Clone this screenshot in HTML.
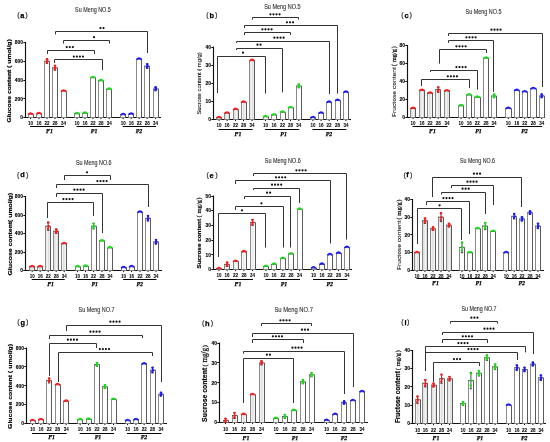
<!DOCTYPE html>
<html><head><meta charset="utf-8"><title>Su Meng sugar content</title>
<style>
html,body{margin:0;padding:0;background:#fff;}
body{width:550px;height:442px;overflow:hidden;}
svg{display:block;will-change:transform;}
text{font-family:"Liberation Sans",sans-serif;fill:#000;}
.pp{font-size:7.3px;fill:#333;stroke:#333;stroke-width:0.2px;}
.pl{font-size:7.4px;font-weight:bold;fill:#000;stroke:#000;stroke-width:0.25px;}
.tt{font-size:6.6px;fill:#2a2a2a;stroke:#2a2a2a;stroke-width:0.1px;}
.yb{font-weight:bold;fill:#000;stroke:#000;stroke-width:0.18px;}
.yr{fill:#111;stroke:#111;stroke-width:0.08px;}
.yu{font-family:"Liberation Serif",serif;fill:#111;stroke:#111;stroke-width:0.25px;}
.tl{font-size:4.9px;font-weight:bold;text-anchor:end;fill:#000;stroke:#000;stroke-width:0.12px;}
.xl{font-size:4.5px;font-weight:bold;text-anchor:middle;fill:#000;stroke:#000;stroke-width:0.05px;}
.gl{font-family:"Liberation Serif",serif;font-size:5.8px;font-weight:bold;font-style:italic;text-anchor:middle;fill:#000;stroke:#000;stroke-width:0.25px;}
.sd{fill:#111;}
.ax{stroke:#111;stroke-width:1.15;fill:none;}
.tk{stroke:#111;stroke-width:1;fill:none;}
.br{stroke:#5a5a5a;stroke-width:1;fill:none;}
.brl{stroke:#8a8a8a;stroke-width:1;fill:none;}
.eb{stroke:#1a1a1a;stroke-width:0.8;fill:none;}
.ul{stroke:#000;stroke-width:1.1;fill:none;}
.bk{stroke:#333;stroke-width:1;fill:none;}
</style></head>
<body>
<svg width="550" height="442" viewBox="0 0 550 442">
<defs>
<pattern id="hatch" patternUnits="userSpaceOnUse" width="1.5" height="4">
<rect width="1.5" height="4" fill="#f6f6f6"/>
<rect width="0.5" height="4" fill="#cfcfcf"/>
</pattern>
<pattern id="hatchl" patternUnits="userSpaceOnUse" width="1.5" height="4">
<rect width="1.5" height="4" fill="#fbfbfb"/>
<rect width="0.5" height="4" fill="#dedede"/>
</pattern>
</defs>
<rect width="550" height="442" fill="#fff"/>
<g>
<text x="17.3" y="17.3" class="pp">(</text>
<text x="20.3" y="17.8" class="pl">a</text>
<text x="25.2" y="17.3" class="pp">)</text>
<text x="75.1" y="11.7" class="tt" textLength="35.6" lengthAdjust="spacingAndGlyphs">Su Meng NO.5</text>
<text transform="translate(10.9,122.6) rotate(-90)" class="yb" style="font-size:6.1px" textLength="83.3" lengthAdjust="spacingAndGlyphs">Glucose content ( umol/g)</text>
<path d="M25.5 42V118M25 117.5H161" class="ax"/>
<path d="M23.3 117.5H25.5" class="tk"/>
<text x="22.9" y="119.25" class="tl">0</text>
<path d="M23.3 98.5H25.5" class="tk"/>
<text x="22.9" y="100.5" class="tl">200</text>
<path d="M23.3 80.5H25.5" class="tk"/>
<text x="22.9" y="81.75" class="tl">400</text>
<path d="M23.3 61.5H25.5" class="tk"/>
<text x="22.9" y="63" class="tl">600</text>
<path d="M23.3 42.5H25.5" class="tk"/>
<text x="22.9" y="44.25" class="tl">800</text>
<rect x="28.5" y="114.22" width="5" height="3.28" fill="#ffffff"/>
<path d="M28.5 117.5V114.22" class="brl"/><path d="M28 114.22H33.5V117.5" class="br"/>
<path d="M30.6 118V119.1" class="tk"/>
<path d="M28.2 114.62Q30.6 111.62 33 114.62" stroke="#ff1a1a" stroke-width="1.8" fill="none"/>
<rect x="36.5" y="113.75" width="5" height="3.75" fill="#ffffff"/>
<path d="M36.5 117.5V113.75" class="brl"/><path d="M36 113.75H41.5V117.5" class="br"/>
<path d="M39 118V119.1" class="tk"/>
<path d="M36.6 114.15Q39 111.15 41.4 114.15" stroke="#ff1a1a" stroke-width="1.8" fill="none"/>
<rect x="44.5" y="61.25" width="5" height="56.25" fill="#ffffff"/>
<path d="M44.5 117.5V61.25" class="brl"/><path d="M44 61.25H49.5V117.5" class="br"/>
<path d="M47 118V119.1" class="tk"/>
<path d="M47 58.91V63.59M45.8 58.91H48.2M45.8 63.59H48.2" class="eb"/>
<circle cx="46.8" cy="62.66" r="1.2" fill="#ff1a1a"/>
<circle cx="47.4" cy="61.3" r="1.2" fill="#ff1a1a"/>
<circle cx="47" cy="59.26" r="1.2" fill="#ff1a1a"/>
<rect x="52.5" y="67.81" width="5" height="49.69" fill="#ffffff"/>
<path d="M52.5 117.5V67.81" class="brl"/><path d="M52 67.81H57.5V117.5" class="br"/>
<path d="M55 118V119.1" class="tk"/>
<path d="M55 65.47V70.16M53.8 65.47H56.2M53.8 70.16H56.2" class="eb"/>
<circle cx="54.8" cy="69.22" r="1.2" fill="#ff1a1a"/>
<circle cx="55.4" cy="67.86" r="1.2" fill="#ff1a1a"/>
<circle cx="55" cy="65.82" r="1.2" fill="#ff1a1a"/>
<rect x="61.5" y="91.25" width="5" height="26.25" fill="#ffffff"/>
<path d="M61.5 117.5V91.25" class="brl"/><path d="M61 91.25H66.5V117.5" class="br"/>
<path d="M63.6 118V119.1" class="tk"/>
<path d="M61.2 91.65Q63.6 88.65 66 91.65" stroke="#ff1a1a" stroke-width="1.8" fill="none"/>
<text x="30.6" y="124.7" class="xl">10</text>
<text x="39" y="124.7" class="xl">16</text>
<text x="47" y="124.7" class="xl">22</text>
<text x="55" y="124.7" class="xl">28</text>
<text x="63.6" y="124.7" class="xl">34</text>
<path d="M30.1 126.5H64.1" class="ul"/>
<text x="49.4" y="133" class="gl">F1</text>
<rect x="74.5" y="113.75" width="5" height="3.75" fill="#ffffff"/>
<path d="M74.5 117.5V113.75" class="brl"/><path d="M74 113.75H79.5V117.5" class="br"/>
<path d="M77 118V119.1" class="tk"/>
<path d="M74.6 114.15Q77 111.15 79.4 114.15" stroke="#18e018" stroke-width="1.8" fill="none"/>
<rect x="82.5" y="113.28" width="5" height="4.22" fill="#ffffff"/>
<path d="M82.5 117.5V113.28" class="brl"/><path d="M82 113.28H87.5V117.5" class="br"/>
<path d="M85 118V119.1" class="tk"/>
<path d="M82.6 113.68Q85 110.68 87.4 113.68" stroke="#18e018" stroke-width="1.8" fill="none"/>
<rect x="90.5" y="77.66" width="5" height="39.84" fill="#ffffff"/>
<path d="M90.5 117.5V77.66" class="brl"/><path d="M90 77.66H95.5V117.5" class="br"/>
<path d="M93 118V119.1" class="tk"/>
<path d="M90.6 78.06Q93 75.06 95.4 78.06" stroke="#18e018" stroke-width="1.8" fill="none"/>
<rect x="98.5" y="80.75" width="5" height="36.75" fill="#ffffff"/>
<path d="M98.5 117.5V80.75" class="brl"/><path d="M98 80.75H103.5V117.5" class="br"/>
<path d="M101 118V119.1" class="tk"/>
<path d="M98.6 81.15Q101 78.15 103.4 81.15" stroke="#18e018" stroke-width="1.8" fill="none"/>
<rect x="106.5" y="89.19" width="5" height="28.31" fill="#ffffff"/>
<path d="M106.5 117.5V89.19" class="brl"/><path d="M106 89.19H111.5V117.5" class="br"/>
<path d="M109.2 118V119.1" class="tk"/>
<path d="M106.8 89.59Q109.2 86.59 111.6 89.59" stroke="#18e018" stroke-width="1.8" fill="none"/>
<text x="77" y="124.7" class="xl">10</text>
<text x="85" y="124.7" class="xl">16</text>
<text x="93" y="124.7" class="xl">22</text>
<text x="101" y="124.7" class="xl">28</text>
<text x="109.2" y="124.7" class="xl">34</text>
<path d="M76.5 126.5H109.7" class="ul"/>
<text x="94.1" y="133" class="gl">P1</text>
<rect x="120.5" y="114.69" width="5" height="2.81" fill="#ffffff"/>
<path d="M120.5 117.5V114.69" class="brl"/><path d="M120 114.69H125.5V117.5" class="br"/>
<path d="M123.2 118V119.1" class="tk"/>
<path d="M120.8 115.09Q123.2 112.09 125.6 115.09" stroke="#1a1aff" stroke-width="1.8" fill="none"/>
<rect x="128.5" y="114.22" width="5" height="3.28" fill="#ffffff"/>
<path d="M128.5 117.5V114.22" class="brl"/><path d="M128 114.22H133.5V117.5" class="br"/>
<path d="M131.2 118V119.1" class="tk"/>
<path d="M128.8 114.62Q131.2 111.62 133.6 114.62" stroke="#1a1aff" stroke-width="1.8" fill="none"/>
<rect x="136.5" y="59.19" width="5" height="58.31" fill="#ffffff"/>
<path d="M136.5 117.5V59.19" class="brl"/><path d="M136 59.19H141.5V117.5" class="br"/>
<path d="M139.2 118V119.1" class="tk"/>
<path d="M136.8 59.59Q139.2 56.59 141.6 59.59" stroke="#1a1aff" stroke-width="1.8" fill="none"/>
<rect x="144.5" y="66.12" width="5" height="51.38" fill="#ffffff"/>
<path d="M144.5 117.5V66.12" class="brl"/><path d="M144 66.12H149.5V117.5" class="br"/>
<path d="M147.2 118V119.1" class="tk"/>
<path d="M147.2 63.78V68.47M146 63.78H148.4M146 68.47H148.4" class="eb"/>
<circle cx="147" cy="67.53" r="1.2" fill="#1a1aff"/>
<circle cx="147.6" cy="66.17" r="1.2" fill="#1a1aff"/>
<circle cx="147.2" cy="64.13" r="1.2" fill="#1a1aff"/>
<rect x="153.5" y="88.91" width="5" height="28.59" fill="#ffffff"/>
<path d="M153.5 117.5V88.91" class="brl"/><path d="M153 88.91H158.5V117.5" class="br"/>
<path d="M155.6 118V119.1" class="tk"/>
<path d="M155.6 87.03V90.78M154.4 87.03H156.8M154.4 90.78H156.8" class="eb"/>
<circle cx="155.4" cy="90.03" r="1.2" fill="#1a1aff"/>
<circle cx="156" cy="88.94" r="1.2" fill="#1a1aff"/>
<circle cx="155.6" cy="87.31" r="1.2" fill="#1a1aff"/>
<text x="123.2" y="124.7" class="xl">10</text>
<text x="131.2" y="124.7" class="xl">16</text>
<text x="139.2" y="124.7" class="xl">22</text>
<text x="147.2" y="124.7" class="xl">28</text>
<text x="155.6" y="124.7" class="xl">34</text>
<path d="M122.7 126.5H156.1" class="ul"/>
<text x="139" y="133" class="gl">P2</text>
<path d="M55.5 34.4V31.5H147.5V53" class="bk"/>
<circle cx="100.47" cy="28.1" r="1.1" class="sd"/>
<circle cx="103.52" cy="28.1" r="1.1" class="sd"/>
<path d="M63.5 43.5V40.5H109.5V43.6" class="bk"/>
<circle cx="94" cy="37.2" r="1.1" class="sd"/>
<path d="M47.5 54V50.5H94.5V54" class="bk"/>
<circle cx="66.75" cy="47.1" r="1.1" class="sd"/>
<circle cx="69.8" cy="47.1" r="1.1" class="sd"/>
<circle cx="72.85" cy="47.1" r="1.1" class="sd"/>
<path d="M54.5 63V59.5H102.5V70" class="bk"/>
<circle cx="73.83" cy="56.6" r="1.1" class="sd"/>
<circle cx="76.88" cy="56.6" r="1.1" class="sd"/>
<circle cx="79.92" cy="56.6" r="1.1" class="sd"/>
<circle cx="82.97" cy="56.6" r="1.1" class="sd"/>
</g>
<g>
<text x="206.3" y="17.3" class="pp">(</text>
<text x="209.5" y="17.8" class="pl">b</text>
<text x="215" y="17.3" class="pp">)</text>
<text x="264.2" y="9.1" class="tt" textLength="36.3" lengthAdjust="spacingAndGlyphs">Su Meng NO.5</text>
<text transform="translate(201.4,114.6) rotate(-90)" class="yr" style="font-size:5.3px" textLength="62.4" lengthAdjust="spacingAndGlyphs">Sucrose content ( mg/g)</text>
<path d="M213.5 46.5V120M213 119.5H351" class="ax"/>
<path d="M211.3 119.5H213.5" class="tk"/>
<text x="210.9" y="121.25" class="tl">0</text>
<path d="M211.3 101.5H213.5" class="tk"/>
<text x="210.9" y="103.12" class="tl">10</text>
<path d="M211.3 83.5H213.5" class="tk"/>
<text x="210.9" y="85" class="tl">20</text>
<path d="M211.3 65.5H213.5" class="tk"/>
<text x="210.9" y="66.88" class="tl">30</text>
<path d="M211.3 47.5H213.5" class="tk"/>
<text x="210.9" y="48.75" class="tl">40</text>
<rect x="216.5" y="117.69" width="5" height="1.81" fill="url(#hatch)"/>
<path d="M216.5 119.5V117.69" class="brl"/><path d="M216 117.69H221.5V119.5" class="br"/>
<path d="M219.1 120V121.1" class="tk"/>
<path d="M216.8 118.09Q219.1 115.09 221.4 118.09" stroke="#ff1a1a" stroke-width="1.8" fill="none"/>
<rect x="224.5" y="113.16" width="5" height="6.34" fill="url(#hatch)"/>
<path d="M224.5 119.5V113.16" class="brl"/><path d="M224 113.16H229.5V119.5" class="br"/>
<path d="M227.1 120V121.1" class="tk"/>
<path d="M224.8 113.56Q227.1 110.56 229.4 113.56" stroke="#ff1a1a" stroke-width="1.8" fill="none"/>
<rect x="233.5" y="109.53" width="5" height="9.97" fill="url(#hatch)"/>
<path d="M233.5 119.5V109.53" class="brl"/><path d="M233 109.53H238.5V119.5" class="br"/>
<path d="M235.5 120V121.1" class="tk"/>
<path d="M233.2 109.93Q235.5 106.93 237.8 109.93" stroke="#ff1a1a" stroke-width="1.8" fill="none"/>
<rect x="241.5" y="102.28" width="5" height="17.22" fill="url(#hatch)"/>
<path d="M241.5 119.5V102.28" class="brl"/><path d="M241 102.28H246.5V119.5" class="br"/>
<path d="M243.5 120V121.1" class="tk"/>
<path d="M241.2 102.68Q243.5 99.68 245.8 102.68" stroke="#ff1a1a" stroke-width="1.8" fill="none"/>
<rect x="249.5" y="60.59" width="5" height="58.91" fill="url(#hatch)"/>
<path d="M249.5 119.5V60.59" class="brl"/><path d="M249 60.59H254.5V119.5" class="br"/>
<path d="M252.1 120V121.1" class="tk"/>
<path d="M249.8 60.99Q252.1 57.99 254.4 60.99" stroke="#ff1a1a" stroke-width="1.8" fill="none"/>
<text x="219.1" y="126.7" class="xl">10</text>
<text x="227.1" y="126.7" class="xl">16</text>
<text x="235.5" y="126.7" class="xl">22</text>
<text x="243.5" y="126.7" class="xl">28</text>
<text x="252.1" y="126.7" class="xl">34</text>
<path d="M218.6 129.5H252.6" class="ul"/>
<text x="237.9" y="135.5" class="gl">F1</text>
<rect x="263.5" y="116.78" width="5" height="2.72" fill="#ffffff"/>
<path d="M263.5 119.5V116.78" class="brl"/><path d="M263 116.78H268.5V119.5" class="br"/>
<path d="M265.5 120V121.1" class="tk"/>
<path d="M263.2 117.18Q265.5 114.18 267.8 117.18" stroke="#18e018" stroke-width="1.8" fill="none"/>
<rect x="271.5" y="114.97" width="5" height="4.53" fill="#ffffff"/>
<path d="M271.5 119.5V114.97" class="brl"/><path d="M271 114.97H276.5V119.5" class="br"/>
<path d="M274.1 120V121.1" class="tk"/>
<path d="M271.8 115.37Q274.1 112.37 276.4 115.37" stroke="#18e018" stroke-width="1.8" fill="none"/>
<rect x="280.5" y="112.25" width="5" height="7.25" fill="#ffffff"/>
<path d="M280.5 119.5V112.25" class="brl"/><path d="M280 112.25H285.5V119.5" class="br"/>
<path d="M282.5 120V121.1" class="tk"/>
<path d="M280.2 112.65Q282.5 109.65 284.8 112.65" stroke="#18e018" stroke-width="1.8" fill="none"/>
<rect x="288.5" y="107.72" width="5" height="11.78" fill="#ffffff"/>
<path d="M288.5 119.5V107.72" class="brl"/><path d="M288 107.72H293.5V119.5" class="br"/>
<path d="M290.5 120V121.1" class="tk"/>
<path d="M288.2 108.12Q290.5 105.12 292.8 108.12" stroke="#18e018" stroke-width="1.8" fill="none"/>
<rect x="296.5" y="85.97" width="5" height="33.53" fill="#ffffff"/>
<path d="M296.5 119.5V85.97" class="brl"/><path d="M296 85.97H301.5V119.5" class="br"/>
<path d="M298.8 120V121.1" class="tk"/>
<path d="M298.8 84.16V87.78M297.6 84.16H300M297.6 87.78H300" class="eb"/>
<circle cx="298.6" cy="87.06" r="1.2" fill="#18e018"/>
<circle cx="299.2" cy="86" r="1.2" fill="#18e018"/>
<circle cx="298.8" cy="84.43" r="1.2" fill="#18e018"/>
<text x="265.5" y="126.7" class="xl">10</text>
<text x="274.1" y="126.7" class="xl">16</text>
<text x="282.5" y="126.7" class="xl">22</text>
<text x="290.5" y="126.7" class="xl">28</text>
<text x="298.8" y="126.7" class="xl">34</text>
<path d="M265 129.5H299.3" class="ul"/>
<text x="283.6" y="135.5" class="gl">P1</text>
<rect x="310.5" y="117.69" width="5" height="1.81" fill="#ffffff"/>
<path d="M310.5 119.5V117.69" class="brl"/><path d="M310 117.69H315.5V119.5" class="br"/>
<path d="M312.9 120V121.1" class="tk"/>
<path d="M310.6 118.09Q312.9 115.09 315.2 118.09" stroke="#1a1aff" stroke-width="1.8" fill="none"/>
<rect x="318.5" y="113.16" width="5" height="6.34" fill="#ffffff"/>
<path d="M318.5 119.5V113.16" class="brl"/><path d="M318 113.16H323.5V119.5" class="br"/>
<path d="M321.1 120V121.1" class="tk"/>
<path d="M318.8 113.56Q321.1 110.56 323.4 113.56" stroke="#1a1aff" stroke-width="1.8" fill="none"/>
<rect x="326.5" y="102.28" width="5" height="17.22" fill="#ffffff"/>
<path d="M326.5 119.5V102.28" class="brl"/><path d="M326 102.28H331.5V119.5" class="br"/>
<path d="M329.1 120V121.1" class="tk"/>
<path d="M326.8 102.68Q329.1 99.68 331.4 102.68" stroke="#1a1aff" stroke-width="1.8" fill="none"/>
<rect x="335.5" y="100.47" width="5" height="19.03" fill="#ffffff"/>
<path d="M335.5 119.5V100.47" class="brl"/><path d="M335 100.47H340.5V119.5" class="br"/>
<path d="M337.5 120V121.1" class="tk"/>
<path d="M335.2 100.87Q337.5 97.87 339.8 100.87" stroke="#1a1aff" stroke-width="1.8" fill="none"/>
<rect x="343.5" y="92.31" width="5" height="27.19" fill="#ffffff"/>
<path d="M343.5 119.5V92.31" class="brl"/><path d="M343 92.31H348.5V119.5" class="br"/>
<path d="M345.9 120V121.1" class="tk"/>
<path d="M343.6 92.71Q345.9 89.71 348.2 92.71" stroke="#1a1aff" stroke-width="1.8" fill="none"/>
<text x="312.9" y="126.7" class="xl">10</text>
<text x="321.1" y="126.7" class="xl">16</text>
<text x="329.1" y="126.7" class="xl">22</text>
<text x="337.5" y="126.7" class="xl">28</text>
<text x="345.9" y="126.7" class="xl">34</text>
<path d="M312.4 129.5H346.4" class="ul"/>
<text x="328.9" y="135.5" class="gl">P2</text>
<path d="M252.5 19.6V17.5H298.5V19.6" class="bk"/>
<circle cx="270.43" cy="14.3" r="1.1" class="sd"/>
<circle cx="273.48" cy="14.3" r="1.1" class="sd"/>
<circle cx="276.53" cy="14.3" r="1.1" class="sd"/>
<circle cx="279.57" cy="14.3" r="1.1" class="sd"/>
<path d="M244.5 28V25.5H337.5V93.6" class="bk"/>
<circle cx="286.95" cy="22.3" r="1.1" class="sd"/>
<circle cx="290" cy="22.3" r="1.1" class="sd"/>
<circle cx="293.05" cy="22.3" r="1.1" class="sd"/>
<path d="M244.5 35V32.5H290.5V35" class="bk"/>
<circle cx="262.43" cy="29.3" r="1.1" class="sd"/>
<circle cx="265.48" cy="29.3" r="1.1" class="sd"/>
<circle cx="268.53" cy="29.3" r="1.1" class="sd"/>
<circle cx="271.57" cy="29.3" r="1.1" class="sd"/>
<path d="M236.5 43V41.5H329.5V94" class="bk"/>
<circle cx="274.43" cy="37.7" r="1.1" class="sd"/>
<circle cx="277.48" cy="37.7" r="1.1" class="sd"/>
<circle cx="280.53" cy="37.7" r="1.1" class="sd"/>
<circle cx="283.57" cy="37.7" r="1.1" class="sd"/>
<path d="M236.5 50V48.5H282.5V92.4" class="bk"/>
<circle cx="257.48" cy="44.7" r="1.1" class="sd"/>
<circle cx="260.53" cy="44.7" r="1.1" class="sd"/>
<path d="M217.5 93V56.5H265.5V93.6" class="bk"/>
<circle cx="243" cy="52.7" r="1.1" class="sd"/>
</g>
<g>
<text x="401.3" y="17.3" class="pp">(</text>
<text x="404.5" y="17.8" class="pl">c</text>
<text x="409.6" y="17.3" class="pp">)</text>
<text x="465.6" y="13.8" class="tt" textLength="35.8" lengthAdjust="spacingAndGlyphs">Su Meng NO.5</text>
<text transform="translate(395.6,117) rotate(-90)" class="yr" style="font-size:5.9px" textLength="49.8" lengthAdjust="spacingAndGlyphs">Fructose content</text>
<text transform="translate(395.6,65.9) rotate(-90)" class="yu" style="font-size:5.6px">(</text>
<text transform="translate(395.6,48.35) rotate(-90)" class="yu" style="font-size:5.6px">)</text>
<text transform="translate(395.6,62.2) rotate(-90)" class="yu" style="font-size:7px" textLength="13.26" lengthAdjust="spacingAndGlyphs">mg/g</text>
<path d="M407.5 45.1V118M407 117.5H545" class="ax"/>
<path d="M405.3 117.5H407.5" class="tk"/>
<text x="404.9" y="119.25" class="tl">0</text>
<path d="M405.3 99.5H407.5" class="tk"/>
<text x="404.9" y="101.28" class="tl">20</text>
<path d="M405.3 81.5H407.5" class="tk"/>
<text x="404.9" y="83.3" class="tl">40</text>
<path d="M405.3 63.5H407.5" class="tk"/>
<text x="404.9" y="65.32" class="tl">60</text>
<path d="M405.3 45.5H407.5" class="tk"/>
<text x="404.9" y="47.35" class="tl">80</text>
<rect x="410.5" y="108.51" width="5" height="8.99" fill="url(#hatch)"/>
<path d="M410.5 117.5V108.51" class="brl"/><path d="M410 108.51H415.5V117.5" class="br"/>
<path d="M413.1 118V119.1" class="tk"/>
<path d="M410.6 108.91Q413.1 105.91 415.6 108.91" stroke="#ff1a1a" stroke-width="1.8" fill="none"/>
<rect x="419.5" y="90.54" width="5" height="26.96" fill="url(#hatch)"/>
<path d="M419.5 117.5V90.54" class="brl"/><path d="M419 90.54H424.5V117.5" class="br"/>
<path d="M421.9 118V119.1" class="tk"/>
<path d="M419.4 90.94Q421.9 87.94 424.4 90.94" stroke="#ff1a1a" stroke-width="1.8" fill="none"/>
<rect x="427.5" y="93.23" width="5" height="24.27" fill="url(#hatch)"/>
<path d="M427.5 117.5V93.23" class="brl"/><path d="M427 93.23H432.5V117.5" class="br"/>
<path d="M430.1 118V119.1" class="tk"/>
<path d="M427.6 93.63Q430.1 90.63 432.6 93.63" stroke="#ff1a1a" stroke-width="1.8" fill="none"/>
<rect x="435.5" y="89.64" width="5" height="27.86" fill="url(#hatch)"/>
<path d="M435.5 117.5V89.64" class="brl"/><path d="M435 89.64H440.5V117.5" class="br"/>
<path d="M438.2 118V119.1" class="tk"/>
<path d="M438.2 86.94V92.33M437 86.94H439.4M437 92.33H439.4" class="eb"/>
<circle cx="438" cy="91.26" r="1.2" fill="#ff1a1a"/>
<circle cx="438.6" cy="89.69" r="1.2" fill="#ff1a1a"/>
<circle cx="438.2" cy="87.35" r="1.2" fill="#ff1a1a"/>
<rect x="444.5" y="90.99" width="5" height="26.51" fill="url(#hatch)"/>
<path d="M444.5 117.5V90.99" class="brl"/><path d="M444 90.99H449.5V117.5" class="br"/>
<path d="M446.9 118V119.1" class="tk"/>
<path d="M444.4 91.39Q446.9 88.39 449.4 91.39" stroke="#ff1a1a" stroke-width="1.8" fill="none"/>
<text x="413.1" y="124.8" class="xl">10</text>
<text x="421.9" y="124.8" class="xl">16</text>
<text x="430.1" y="124.8" class="xl">22</text>
<text x="438.2" y="124.8" class="xl">28</text>
<text x="446.9" y="124.8" class="xl">34</text>
<path d="M412.6 126.5H447.4" class="ul"/>
<text x="432.5" y="133" class="gl">F1</text>
<rect x="458.5" y="105.82" width="5" height="11.68" fill="#ffffff"/>
<path d="M458.5 117.5V105.82" class="brl"/><path d="M458 105.82H463.5V117.5" class="br"/>
<path d="M461.1 118V119.1" class="tk"/>
<path d="M458.6 106.22Q461.1 103.22 463.6 106.22" stroke="#18e018" stroke-width="1.8" fill="none"/>
<rect x="466.5" y="95.03" width="5" height="22.47" fill="#ffffff"/>
<path d="M466.5 117.5V95.03" class="brl"/><path d="M466 95.03H471.5V117.5" class="br"/>
<path d="M469.2 118V119.1" class="tk"/>
<path d="M466.7 95.43Q469.2 92.43 471.7 95.43" stroke="#18e018" stroke-width="1.8" fill="none"/>
<rect x="474.5" y="97.28" width="6" height="20.22" fill="#ffffff"/>
<path d="M474.5 117.5V97.28" class="brl"/><path d="M474 97.28H480.5V117.5" class="br"/>
<path d="M477.3 118V119.1" class="tk"/>
<path d="M474.8 97.68Q477.3 94.68 479.8 97.68" stroke="#18e018" stroke-width="1.8" fill="none"/>
<rect x="483.5" y="58.18" width="5" height="59.32" fill="#ffffff"/>
<path d="M483.5 117.5V58.18" class="brl"/><path d="M483 58.18H488.5V117.5" class="br"/>
<path d="M486.1 118V119.1" class="tk"/>
<path d="M483.6 58.58Q486.1 55.58 488.6 58.58" stroke="#18e018" stroke-width="1.8" fill="none"/>
<rect x="491.5" y="95.93" width="5" height="21.57" fill="#ffffff"/>
<path d="M491.5 117.5V95.93" class="brl"/><path d="M491 95.93H496.5V117.5" class="br"/>
<path d="M494.1 118V119.1" class="tk"/>
<path d="M494.1 94.13V97.73M492.9 94.13H495.3M492.9 97.73H495.3" class="eb"/>
<circle cx="493.9" cy="97.01" r="1.2" fill="#18e018"/>
<circle cx="494.5" cy="95.97" r="1.2" fill="#18e018"/>
<circle cx="494.1" cy="94.4" r="1.2" fill="#18e018"/>
<text x="461.1" y="124.8" class="xl">10</text>
<text x="469.2" y="124.8" class="xl">16</text>
<text x="477.3" y="124.8" class="xl">22</text>
<text x="486.1" y="124.8" class="xl">28</text>
<text x="494.1" y="124.8" class="xl">34</text>
<path d="M460.6 126.5H494.6" class="ul"/>
<text x="478.4" y="133" class="gl">P1</text>
<rect x="505.5" y="108.51" width="6" height="8.99" fill="#ffffff"/>
<path d="M505.5 117.5V108.51" class="brl"/><path d="M505 108.51H511.5V117.5" class="br"/>
<path d="M508.3 118V119.1" class="tk"/>
<path d="M505.8 108.91Q508.3 105.91 510.8 108.91" stroke="#1a1aff" stroke-width="1.8" fill="none"/>
<rect x="514.5" y="90.54" width="5" height="26.96" fill="#ffffff"/>
<path d="M514.5 117.5V90.54" class="brl"/><path d="M514 90.54H519.5V117.5" class="br"/>
<path d="M516.7 118V119.1" class="tk"/>
<path d="M514.2 90.94Q516.7 87.94 519.2 90.94" stroke="#1a1aff" stroke-width="1.8" fill="none"/>
<rect x="522.5" y="91.89" width="5" height="25.61" fill="#ffffff"/>
<path d="M522.5 117.5V91.89" class="brl"/><path d="M522 91.89H527.5V117.5" class="br"/>
<path d="M524.7 118V119.1" class="tk"/>
<path d="M522.2 92.29Q524.7 89.29 527.2 92.29" stroke="#1a1aff" stroke-width="1.8" fill="none"/>
<rect x="530.5" y="88.74" width="6" height="28.76" fill="#ffffff"/>
<path d="M530.5 117.5V88.74" class="brl"/><path d="M530 88.74H536.5V117.5" class="br"/>
<path d="M533.3 118V119.1" class="tk"/>
<path d="M530.8 89.14Q533.3 86.14 535.8 89.14" stroke="#1a1aff" stroke-width="1.8" fill="none"/>
<rect x="539.5" y="95.93" width="5" height="21.57" fill="#ffffff"/>
<path d="M539.5 117.5V95.93" class="brl"/><path d="M539 95.93H544.5V117.5" class="br"/>
<path d="M541.7 118V119.1" class="tk"/>
<path d="M541.7 94.13V97.73M540.5 94.13H542.9M540.5 97.73H542.9" class="eb"/>
<circle cx="541.5" cy="97.01" r="1.2" fill="#1a1aff"/>
<circle cx="542.1" cy="95.97" r="1.2" fill="#1a1aff"/>
<circle cx="541.7" cy="94.4" r="1.2" fill="#1a1aff"/>
<text x="508.3" y="124.8" class="xl">10</text>
<text x="516.7" y="124.8" class="xl">16</text>
<text x="524.7" y="124.8" class="xl">22</text>
<text x="533.3" y="124.8" class="xl">28</text>
<text x="541.7" y="124.8" class="xl">34</text>
<path d="M507.8 126.5H542.2" class="ul"/>
<text x="524.5" y="133" class="gl">P2</text>
<path d="M448.5 36V33.5H542.5V87" class="bk"/>
<circle cx="491.43" cy="29.7" r="1.1" class="sd"/>
<circle cx="494.48" cy="29.7" r="1.1" class="sd"/>
<circle cx="497.53" cy="29.7" r="1.1" class="sd"/>
<circle cx="500.57" cy="29.7" r="1.1" class="sd"/>
<path d="M448.5 43V40.5H493.5V92" class="bk"/>
<circle cx="466.43" cy="37.3" r="1.1" class="sd"/>
<circle cx="469.48" cy="37.3" r="1.1" class="sd"/>
<circle cx="472.53" cy="37.3" r="1.1" class="sd"/>
<circle cx="475.57" cy="37.3" r="1.1" class="sd"/>
<path d="M439.5 63.6V49.5H486.5V53" class="bk"/>
<circle cx="456.43" cy="46.3" r="1.1" class="sd"/>
<circle cx="459.48" cy="46.3" r="1.1" class="sd"/>
<circle cx="462.53" cy="46.3" r="1.1" class="sd"/>
<circle cx="465.57" cy="46.3" r="1.1" class="sd"/>
<path d="M430.5 72V70.5H477.5V89.6" class="bk"/>
<circle cx="456.43" cy="67.1" r="1.1" class="sd"/>
<circle cx="459.48" cy="67.1" r="1.1" class="sd"/>
<circle cx="462.53" cy="67.1" r="1.1" class="sd"/>
<circle cx="465.57" cy="67.1" r="1.1" class="sd"/>
<path d="M421.5 86V79.5H469.5V88" class="bk"/>
<circle cx="447.82" cy="76.3" r="1.1" class="sd"/>
<circle cx="450.88" cy="76.3" r="1.1" class="sd"/>
<circle cx="453.93" cy="76.3" r="1.1" class="sd"/>
<circle cx="456.97" cy="76.3" r="1.1" class="sd"/>
</g>
<g>
<text x="17.1" y="176.7" class="pp">(</text>
<text x="20.3" y="177.4" class="pl">d</text>
<text x="26" y="176.7" class="pp">)</text>
<text x="75.9" y="165.1" class="tt" textLength="35.7" lengthAdjust="spacingAndGlyphs">Su Meng NO.6</text>
<text transform="translate(11.5,275.5) rotate(-90)" class="yb" style="font-size:6.1px" textLength="82.5" lengthAdjust="spacingAndGlyphs">Glucose content( umol/g)</text>
<path d="M25.5 196.1V271M25 270.5H162" class="ax"/>
<path d="M23.3 270.5H25.5" class="tk"/>
<text x="22.9" y="272.25" class="tl">0</text>
<path d="M23.3 252.5H25.5" class="tk"/>
<text x="22.9" y="253.78" class="tl">200</text>
<path d="M23.3 233.5H25.5" class="tk"/>
<text x="22.9" y="235.3" class="tl">400</text>
<path d="M23.3 215.5H25.5" class="tk"/>
<text x="22.9" y="216.82" class="tl">600</text>
<path d="M23.3 196.5H25.5" class="tk"/>
<text x="22.9" y="198.35" class="tl">800</text>
<rect x="29.5" y="266.81" width="5" height="3.69" fill="url(#hatch)"/>
<path d="M29.5 270.5V266.81" class="brl"/><path d="M29 266.81H34.5V270.5" class="br"/>
<path d="M32.2 271V272.1" class="tk"/>
<path d="M29.8 267.2Q32.2 264.2 34.6 267.2" stroke="#ff1a1a" stroke-width="1.8" fill="none"/>
<rect x="37.5" y="266.81" width="5" height="3.69" fill="url(#hatch)"/>
<path d="M37.5 270.5V266.81" class="brl"/><path d="M37 266.81H42.5V270.5" class="br"/>
<path d="M40.2 271V272.1" class="tk"/>
<path d="M37.8 267.2Q40.2 264.2 42.6 267.2" stroke="#ff1a1a" stroke-width="1.8" fill="none"/>
<rect x="45.5" y="226.16" width="5" height="44.34" fill="url(#hatch)"/>
<path d="M45.5 270.5V226.16" class="brl"/><path d="M45 226.16H50.5V270.5" class="br"/>
<path d="M48.2 271V272.1" class="tk"/>
<path d="M48.2 222V230.32M47 222H49.4M47 230.32H49.4" class="eb"/>
<circle cx="48" cy="228.65" r="1.2" fill="#ff1a1a"/>
<circle cx="48.6" cy="226.24" r="1.2" fill="#ff1a1a"/>
<circle cx="48.2" cy="222.63" r="1.2" fill="#ff1a1a"/>
<rect x="53.5" y="231.24" width="5" height="39.26" fill="url(#hatch)"/>
<path d="M53.5 270.5V231.24" class="brl"/><path d="M53 231.24H58.5V270.5" class="br"/>
<path d="M56.2 271V272.1" class="tk"/>
<path d="M56.2 229.02V233.46M55 229.02H57.4M55 233.46H57.4" class="eb"/>
<circle cx="56" cy="232.57" r="1.2" fill="#ff1a1a"/>
<circle cx="56.6" cy="231.28" r="1.2" fill="#ff1a1a"/>
<circle cx="56.2" cy="229.36" r="1.2" fill="#ff1a1a"/>
<rect x="61.5" y="243.71" width="5" height="26.79" fill="url(#hatch)"/>
<path d="M61.5 270.5V243.71" class="brl"/><path d="M61 243.71H66.5V270.5" class="br"/>
<path d="M64.2 271V272.1" class="tk"/>
<path d="M61.8 244.11Q64.2 241.11 66.6 244.11" stroke="#ff1a1a" stroke-width="1.8" fill="none"/>
<text x="32.2" y="277.9" class="xl">10</text>
<text x="40.2" y="277.9" class="xl">16</text>
<text x="48.2" y="277.9" class="xl">22</text>
<text x="56.2" y="277.9" class="xl">28</text>
<text x="64.2" y="277.9" class="xl">34</text>
<path d="M31.7 279.5H64.7" class="ul"/>
<text x="50.6" y="286.3" class="gl">F1</text>
<rect x="75.5" y="266.81" width="5" height="3.69" fill="#ffffff"/>
<path d="M75.5 270.5V266.81" class="brl"/><path d="M75 266.81H80.5V270.5" class="br"/>
<path d="M77.6 271V272.1" class="tk"/>
<path d="M75.2 267.2Q77.6 264.2 80 267.2" stroke="#18e018" stroke-width="1.8" fill="none"/>
<rect x="83.5" y="266.34" width="5" height="4.16" fill="#ffffff"/>
<path d="M83.5 270.5V266.34" class="brl"/><path d="M83 266.34H88.5V270.5" class="br"/>
<path d="M85.6 271V272.1" class="tk"/>
<path d="M83.2 266.74Q85.6 263.74 88 266.74" stroke="#18e018" stroke-width="1.8" fill="none"/>
<rect x="91.5" y="226.16" width="5" height="44.34" fill="#ffffff"/>
<path d="M91.5 270.5V226.16" class="brl"/><path d="M91 226.16H96.5V270.5" class="br"/>
<path d="M93.6 271V272.1" class="tk"/>
<path d="M93.6 223.39V228.93M92.4 223.39H94.8M92.4 228.93H94.8" class="eb"/>
<circle cx="93.4" cy="227.82" r="1.2" fill="#18e018"/>
<circle cx="94" cy="226.22" r="1.2" fill="#18e018"/>
<circle cx="93.6" cy="223.8" r="1.2" fill="#18e018"/>
<rect x="99.5" y="240.94" width="5" height="29.56" fill="#ffffff"/>
<path d="M99.5 270.5V240.94" class="brl"/><path d="M99 240.94H104.5V270.5" class="br"/>
<path d="M102 271V272.1" class="tk"/>
<path d="M99.6 241.34Q102 238.34 104.4 241.34" stroke="#18e018" stroke-width="1.8" fill="none"/>
<rect x="107.5" y="247.87" width="5" height="22.63" fill="#ffffff"/>
<path d="M107.5 270.5V247.87" class="brl"/><path d="M107 247.87H112.5V270.5" class="br"/>
<path d="M110 271V272.1" class="tk"/>
<path d="M107.6 248.27Q110 245.27 112.4 248.27" stroke="#18e018" stroke-width="1.8" fill="none"/>
<text x="77.6" y="277.9" class="xl">10</text>
<text x="85.6" y="277.9" class="xl">16</text>
<text x="93.6" y="277.9" class="xl">22</text>
<text x="102" y="277.9" class="xl">28</text>
<text x="110" y="277.9" class="xl">34</text>
<path d="M77.1 279.5H110.5" class="ul"/>
<text x="94.7" y="286.3" class="gl">P1</text>
<rect x="121.5" y="267.73" width="5" height="2.77" fill="#ffffff"/>
<path d="M121.5 270.5V267.73" class="brl"/><path d="M121 267.73H126.5V270.5" class="br"/>
<path d="M123.6 271V272.1" class="tk"/>
<path d="M121.2 268.13Q123.6 265.13 126 268.13" stroke="#1a1aff" stroke-width="1.8" fill="none"/>
<rect x="129.5" y="266.81" width="5" height="3.69" fill="#ffffff"/>
<path d="M129.5 270.5V266.81" class="brl"/><path d="M129 266.81H134.5V270.5" class="br"/>
<path d="M131.6 271V272.1" class="tk"/>
<path d="M129.2 267.2Q131.6 264.2 134 267.2" stroke="#1a1aff" stroke-width="1.8" fill="none"/>
<rect x="137.5" y="212.3" width="5" height="58.2" fill="#ffffff"/>
<path d="M137.5 270.5V212.3" class="brl"/><path d="M137 212.3H142.5V270.5" class="br"/>
<path d="M140 271V272.1" class="tk"/>
<path d="M137.6 212.7Q140 209.7 142.4 212.7" stroke="#1a1aff" stroke-width="1.8" fill="none"/>
<rect x="145.5" y="218.31" width="5" height="52.19" fill="#ffffff"/>
<path d="M145.5 270.5V218.31" class="brl"/><path d="M145 218.31H150.5V270.5" class="br"/>
<path d="M148 271V272.1" class="tk"/>
<path d="M148 215.54V221.08M146.8 215.54H149.2M146.8 221.08H149.2" class="eb"/>
<circle cx="147.8" cy="219.97" r="1.2" fill="#1a1aff"/>
<circle cx="148.4" cy="218.36" r="1.2" fill="#1a1aff"/>
<circle cx="148" cy="215.95" r="1.2" fill="#1a1aff"/>
<rect x="153.5" y="241.86" width="5" height="28.64" fill="#ffffff"/>
<path d="M153.5 270.5V241.86" class="brl"/><path d="M153 241.86H158.5V270.5" class="br"/>
<path d="M156 271V272.1" class="tk"/>
<path d="M156 239.55V244.17M154.8 239.55H157.2M154.8 244.17H157.2" class="eb"/>
<circle cx="155.8" cy="243.25" r="1.2" fill="#1a1aff"/>
<circle cx="156.4" cy="241.91" r="1.2" fill="#1a1aff"/>
<circle cx="156" cy="239.9" r="1.2" fill="#1a1aff"/>
<text x="123.6" y="277.9" class="xl">10</text>
<text x="131.6" y="277.9" class="xl">16</text>
<text x="140" y="277.9" class="xl">22</text>
<text x="148" y="277.9" class="xl">28</text>
<text x="156" y="277.9" class="xl">34</text>
<path d="M123.1 279.5H156.5" class="ul"/>
<text x="139.8" y="286.3" class="gl">P2</text>
<path d="M64.5 180V175.5H110.5V180" class="bk"/>
<circle cx="87" cy="172.3" r="1.1" class="sd"/>
<path d="M56.5 188V184.5H148.5V207" class="bk"/>
<circle cx="97.42" cy="181.1" r="1.1" class="sd"/>
<circle cx="100.47" cy="181.1" r="1.1" class="sd"/>
<circle cx="103.52" cy="181.1" r="1.1" class="sd"/>
<circle cx="106.57" cy="181.1" r="1.1" class="sd"/>
<path d="M56.5 197V193.5H102.5V233" class="bk"/>
<circle cx="74.42" cy="189.7" r="1.1" class="sd"/>
<circle cx="77.47" cy="189.7" r="1.1" class="sd"/>
<circle cx="80.52" cy="189.7" r="1.1" class="sd"/>
<circle cx="83.57" cy="189.7" r="1.1" class="sd"/>
<path d="M47.5 218V202.5H93.5V216" class="bk"/>
<circle cx="63.42" cy="199.1" r="1.1" class="sd"/>
<circle cx="66.47" cy="199.1" r="1.1" class="sd"/>
<circle cx="69.52" cy="199.1" r="1.1" class="sd"/>
<circle cx="72.57" cy="199.1" r="1.1" class="sd"/>
</g>
<g>
<text x="206.5" y="176.5" class="pp">(</text>
<text x="209.5" y="177.6" class="pl">e</text>
<text x="215.2" y="176.5" class="pp">)</text>
<text x="264.8" y="163.3" class="tt" textLength="35.9" lengthAdjust="spacingAndGlyphs">Su Meng NO.6</text>
<text transform="translate(201.4,268.6) rotate(-90)" class="yb" style="font-size:6px" textLength="49.7" lengthAdjust="spacingAndGlyphs">Sucrose content</text>
<text transform="translate(201.4,217.3) rotate(-90)" class="yu" style="font-size:5.68px">(</text>
<text transform="translate(201.4,199.39) rotate(-90)" class="yu" style="font-size:5.68px">)</text>
<text transform="translate(201.4,213.52) rotate(-90)" class="yu" style="font-size:7.1px" textLength="13.53" lengthAdjust="spacingAndGlyphs">mg/g</text>
<path d="M213.5 195.5V270M213 269.5H352" class="ax"/>
<path d="M211.3 269.5H213.5" class="tk"/>
<text x="210.9" y="271.25" class="tl">0</text>
<path d="M211.3 254.5H213.5" class="tk"/>
<text x="210.9" y="256.55" class="tl">10</text>
<path d="M211.3 240.5H213.5" class="tk"/>
<text x="210.9" y="241.85" class="tl">20</text>
<path d="M211.3 225.5H213.5" class="tk"/>
<text x="210.9" y="227.15" class="tl">30</text>
<path d="M211.3 210.5H213.5" class="tk"/>
<text x="210.9" y="212.45" class="tl">40</text>
<path d="M211.3 196.5H213.5" class="tk"/>
<text x="210.9" y="197.75" class="tl">50</text>
<rect x="216.5" y="268.76" width="5" height="0.74" fill="url(#hatchl)"/>
<path d="M216.5 269.5V268.76" class="brl"/><path d="M216 268.76H221.5V269.5" class="br"/>
<path d="M218.9 270V271.1" class="tk"/>
<path d="M216.6 269.16Q218.9 266.16 221.2 269.16" stroke="#ff1a1a" stroke-width="1.8" fill="none"/>
<rect x="224.5" y="264.36" width="5" height="5.14" fill="url(#hatchl)"/>
<path d="M224.5 269.5V264.36" class="brl"/><path d="M224 264.36H229.5V269.5" class="br"/>
<path d="M227.1 270V271.1" class="tk"/>
<path d="M227.1 262.15V266.56M225.9 262.15H228.3M225.9 266.56H228.3" class="eb"/>
<circle cx="226.9" cy="265.68" r="1.2" fill="#ff1a1a"/>
<circle cx="227.5" cy="264.4" r="1.2" fill="#ff1a1a"/>
<circle cx="227.1" cy="262.48" r="1.2" fill="#ff1a1a"/>
<rect x="233.5" y="261.42" width="5" height="8.08" fill="url(#hatchl)"/>
<path d="M233.5 269.5V261.42" class="brl"/><path d="M233 261.42H238.5V269.5" class="br"/>
<path d="M235.5 270V271.1" class="tk"/>
<path d="M233.2 261.81Q235.5 258.81 237.8 261.81" stroke="#ff1a1a" stroke-width="1.8" fill="none"/>
<rect x="241.5" y="251.86" width="5" height="17.64" fill="url(#hatchl)"/>
<path d="M241.5 269.5V251.86" class="brl"/><path d="M241 251.86H246.5V269.5" class="br"/>
<path d="M243.9 270V271.1" class="tk"/>
<path d="M241.6 252.26Q243.9 249.26 246.2 252.26" stroke="#ff1a1a" stroke-width="1.8" fill="none"/>
<rect x="250.5" y="222.46" width="5" height="47.04" fill="url(#hatchl)"/>
<path d="M250.5 269.5V222.46" class="brl"/><path d="M250 222.46H255.5V269.5" class="br"/>
<path d="M252.5 270V271.1" class="tk"/>
<path d="M252.5 219.52V225.4M251.3 219.52H253.7M251.3 225.4H253.7" class="eb"/>
<circle cx="252.3" cy="224.22" r="1.2" fill="#ff1a1a"/>
<circle cx="252.9" cy="222.52" r="1.2" fill="#ff1a1a"/>
<circle cx="252.5" cy="219.96" r="1.2" fill="#ff1a1a"/>
<text x="218.9" y="277.1" class="xl">10</text>
<text x="227.1" y="277.1" class="xl">16</text>
<text x="235.5" y="277.1" class="xl">22</text>
<text x="243.9" y="277.1" class="xl">28</text>
<text x="252.5" y="277.1" class="xl">34</text>
<path d="M218.4 279.5H253" class="ul"/>
<text x="237.9" y="286" class="gl">F1</text>
<rect x="263.5" y="266.56" width="5" height="2.94" fill="#ffffff"/>
<path d="M263.5 269.5V266.56" class="brl"/><path d="M263 266.56H268.5V269.5" class="br"/>
<path d="M265.9 270V271.1" class="tk"/>
<path d="M263.6 266.96Q265.9 263.96 268.2 266.96" stroke="#18e018" stroke-width="1.8" fill="none"/>
<rect x="271.5" y="264.36" width="5" height="5.14" fill="#ffffff"/>
<path d="M271.5 269.5V264.36" class="brl"/><path d="M271 264.36H276.5V269.5" class="br"/>
<path d="M274.1 270V271.1" class="tk"/>
<path d="M271.8 264.75Q274.1 261.75 276.4 264.75" stroke="#18e018" stroke-width="1.8" fill="none"/>
<rect x="280.5" y="258.48" width="5" height="11.02" fill="#ffffff"/>
<path d="M280.5 269.5V258.48" class="brl"/><path d="M280 258.48H285.5V269.5" class="br"/>
<path d="M282.9 270V271.1" class="tk"/>
<path d="M280.6 258.88Q282.9 255.88 285.2 258.88" stroke="#18e018" stroke-width="1.8" fill="none"/>
<rect x="288.5" y="254.06" width="5" height="15.44" fill="#ffffff"/>
<path d="M288.5 269.5V254.06" class="brl"/><path d="M288 254.06H293.5V269.5" class="br"/>
<path d="M291.1 270V271.1" class="tk"/>
<path d="M288.8 254.47Q291.1 251.47 293.4 254.47" stroke="#18e018" stroke-width="1.8" fill="none"/>
<rect x="297.5" y="209.23" width="5" height="60.27" fill="#ffffff"/>
<path d="M297.5 269.5V209.23" class="brl"/><path d="M297 209.23H302.5V269.5" class="br"/>
<path d="M299.5 270V271.1" class="tk"/>
<path d="M297.2 209.63Q299.5 206.63 301.8 209.63" stroke="#18e018" stroke-width="1.8" fill="none"/>
<text x="265.9" y="277.1" class="xl">10</text>
<text x="274.1" y="277.1" class="xl">16</text>
<text x="282.9" y="277.1" class="xl">22</text>
<text x="291.1" y="277.1" class="xl">28</text>
<text x="299.5" y="277.1" class="xl">34</text>
<path d="M265.4 279.5H300" class="ul"/>
<text x="284" y="286" class="gl">P1</text>
<rect x="311.5" y="268.03" width="5" height="1.47" fill="#ffffff"/>
<path d="M311.5 269.5V268.03" class="brl"/><path d="M311 268.03H316.5V269.5" class="br"/>
<path d="M313.5 270V271.1" class="tk"/>
<path d="M311.2 268.43Q313.5 265.43 315.8 268.43" stroke="#1a1aff" stroke-width="1.8" fill="none"/>
<rect x="319.5" y="264.36" width="5" height="5.14" fill="#ffffff"/>
<path d="M319.5 269.5V264.36" class="brl"/><path d="M319 264.36H324.5V269.5" class="br"/>
<path d="M321.9 270V271.1" class="tk"/>
<path d="M319.6 264.75Q321.9 261.75 324.2 264.75" stroke="#1a1aff" stroke-width="1.8" fill="none"/>
<rect x="327.5" y="254.8" width="5" height="14.7" fill="#ffffff"/>
<path d="M327.5 269.5V254.8" class="brl"/><path d="M327 254.8H332.5V269.5" class="br"/>
<path d="M329.9 270V271.1" class="tk"/>
<path d="M327.6 255.2Q329.9 252.2 332.2 255.2" stroke="#1a1aff" stroke-width="1.8" fill="none"/>
<rect x="336.5" y="253.33" width="5" height="16.17" fill="#ffffff"/>
<path d="M336.5 269.5V253.33" class="brl"/><path d="M336 253.33H341.5V269.5" class="br"/>
<path d="M338.5 270V271.1" class="tk"/>
<path d="M336.2 253.73Q338.5 250.73 340.8 253.73" stroke="#1a1aff" stroke-width="1.8" fill="none"/>
<rect x="344.5" y="247.45" width="5" height="22.05" fill="#ffffff"/>
<path d="M344.5 269.5V247.45" class="brl"/><path d="M344 247.45H349.5V269.5" class="br"/>
<path d="M346.9 270V271.1" class="tk"/>
<path d="M344.6 247.85Q346.9 244.85 349.2 247.85" stroke="#1a1aff" stroke-width="1.8" fill="none"/>
<text x="313.5" y="277.1" class="xl">10</text>
<text x="321.9" y="277.1" class="xl">16</text>
<text x="329.9" y="277.1" class="xl">22</text>
<text x="338.5" y="277.1" class="xl">28</text>
<text x="346.9" y="277.1" class="xl">34</text>
<path d="M313 279.5H347.4" class="ul"/>
<text x="329.7" y="286" class="gl">P2</text>
<path d="M253.5 176V173.5H346.5V239.6" class="bk"/>
<circle cx="296.43" cy="170.3" r="1.1" class="sd"/>
<circle cx="299.48" cy="170.3" r="1.1" class="sd"/>
<circle cx="302.53" cy="170.3" r="1.1" class="sd"/>
<circle cx="305.57" cy="170.3" r="1.1" class="sd"/>
<path d="M235.5 184V180.5H330.5V243.6" class="bk"/>
<circle cx="276.03" cy="177.3" r="1.1" class="sd"/>
<circle cx="279.08" cy="177.3" r="1.1" class="sd"/>
<circle cx="282.13" cy="177.3" r="1.1" class="sd"/>
<circle cx="285.18" cy="177.3" r="1.1" class="sd"/>
<path d="M253.5 190V188.5H299.5V203" class="bk"/>
<circle cx="272.03" cy="184.7" r="1.1" class="sd"/>
<circle cx="275.08" cy="184.7" r="1.1" class="sd"/>
<circle cx="278.13" cy="184.7" r="1.1" class="sd"/>
<circle cx="281.18" cy="184.7" r="1.1" class="sd"/>
<path d="M244.5 199V196.5H290.5V247.6" class="bk"/>
<circle cx="267.08" cy="192.7" r="1.1" class="sd"/>
<circle cx="270.13" cy="192.7" r="1.1" class="sd"/>
<path d="M235.5 210V206.5H283.5V247.6" class="bk"/>
<circle cx="261.4" cy="203.3" r="1.1" class="sd"/>
<path d="M218.5 257V213.5H265.5V247.6" class="bk"/>
<circle cx="242" cy="210.3" r="1.1" class="sd"/>
</g>
<g>
<text x="403.5" y="176.5" class="pp">(</text>
<text x="406.3" y="177.4" class="pl">f</text>
<text x="410" y="176.5" class="pp">)</text>
<text x="460" y="163.1" class="tt" textLength="35" lengthAdjust="spacingAndGlyphs">Su Meng NO.6</text>
<text transform="translate(400.5,270) rotate(-90)" class="yr" style="font-size:5.9px" textLength="49.6" lengthAdjust="spacingAndGlyphs">Fructose content</text>
<text transform="translate(400.5,219.5) rotate(-90)" class="yu" style="font-size:5.68px">(</text>
<text transform="translate(400.5,201.59) rotate(-90)" class="yu" style="font-size:5.68px">)</text>
<text transform="translate(400.5,215.72) rotate(-90)" class="yu" style="font-size:7.1px" textLength="13.53" lengthAdjust="spacingAndGlyphs">mg/g</text>
<path d="M412.5 198.9V271M412 270.5H544" class="ax"/>
<path d="M410.3 270.5H412.5" class="tk"/>
<text x="409.9" y="272.25" class="tl">0</text>
<path d="M410.3 252.5H412.5" class="tk"/>
<text x="409.9" y="254.47" class="tl">10</text>
<path d="M410.3 234.5H412.5" class="tk"/>
<text x="409.9" y="236.7" class="tl">20</text>
<path d="M410.3 217.5H412.5" class="tk"/>
<text x="409.9" y="218.93" class="tl">30</text>
<path d="M410.3 199.5H412.5" class="tk"/>
<text x="409.9" y="201.15" class="tl">40</text>
<rect x="414.5" y="252.72" width="5" height="17.78" fill="url(#hatch)"/>
<path d="M414.5 270.5V252.72" class="brl"/><path d="M414 252.72H419.5V270.5" class="br"/>
<path d="M417 271V272.1" class="tk"/>
<path d="M414.6 253.12Q417 250.12 419.4 253.12" stroke="#ff1a1a" stroke-width="1.8" fill="none"/>
<rect x="422.5" y="220.73" width="5" height="49.77" fill="url(#hatch)"/>
<path d="M422.5 270.5V220.73" class="brl"/><path d="M422 220.73H427.5V270.5" class="br"/>
<path d="M425 271V272.1" class="tk"/>
<path d="M425 218.06V223.4M423.8 218.06H426.2M423.8 223.4H426.2" class="eb"/>
<circle cx="424.8" cy="222.33" r="1.2" fill="#ff1a1a"/>
<circle cx="425.4" cy="220.78" r="1.2" fill="#ff1a1a"/>
<circle cx="425" cy="218.46" r="1.2" fill="#ff1a1a"/>
<rect x="430.5" y="228.73" width="5" height="41.77" fill="url(#hatch)"/>
<path d="M430.5 270.5V228.73" class="brl"/><path d="M430 228.73H435.5V270.5" class="br"/>
<path d="M433 271V272.1" class="tk"/>
<path d="M433 226.95V230.51M431.8 226.95H434.2M431.8 230.51H434.2" class="eb"/>
<circle cx="432.8" cy="229.8" r="1.2" fill="#ff1a1a"/>
<circle cx="433.4" cy="228.76" r="1.2" fill="#ff1a1a"/>
<circle cx="433" cy="227.22" r="1.2" fill="#ff1a1a"/>
<rect x="438.5" y="217.18" width="5" height="53.32" fill="url(#hatch)"/>
<path d="M438.5 270.5V217.18" class="brl"/><path d="M438 217.18H443.5V270.5" class="br"/>
<path d="M441 271V272.1" class="tk"/>
<path d="M441 212.73V221.62M439.8 212.73H442.2M439.8 221.62H442.2" class="eb"/>
<circle cx="440.8" cy="219.84" r="1.2" fill="#ff1a1a"/>
<circle cx="441.4" cy="217.26" r="1.2" fill="#ff1a1a"/>
<circle cx="441" cy="213.4" r="1.2" fill="#ff1a1a"/>
<rect x="446.5" y="225.17" width="5" height="45.33" fill="url(#hatch)"/>
<path d="M446.5 270.5V225.17" class="brl"/><path d="M446 225.17H451.5V270.5" class="br"/>
<path d="M449 271V272.1" class="tk"/>
<path d="M449 223.4V226.95M447.8 223.4H450.2M447.8 226.95H450.2" class="eb"/>
<circle cx="448.8" cy="226.24" r="1.2" fill="#ff1a1a"/>
<circle cx="449.4" cy="225.21" r="1.2" fill="#ff1a1a"/>
<circle cx="449" cy="223.66" r="1.2" fill="#ff1a1a"/>
<text x="417" y="277.5" class="xl">10</text>
<text x="425" y="277.5" class="xl">16</text>
<text x="433" y="277.5" class="xl">22</text>
<text x="441" y="277.5" class="xl">28</text>
<text x="449" y="277.5" class="xl">34</text>
<path d="M416.5 278.5H449.5" class="ul"/>
<text x="435.4" y="285.4" class="gl">F1</text>
<rect x="459.5" y="247.39" width="5" height="23.11" fill="#ffffff"/>
<path d="M459.5 270.5V247.39" class="brl"/><path d="M459 247.39H464.5V270.5" class="br"/>
<path d="M462 271V272.1" class="tk"/>
<path d="M462 242.06V252.72M460.8 242.06H463.2M460.8 252.72H463.2" class="eb"/>
<circle cx="461.8" cy="250.59" r="1.2" fill="#18e018"/>
<circle cx="462.4" cy="247.5" r="1.2" fill="#18e018"/>
<circle cx="462" cy="242.86" r="1.2" fill="#18e018"/>
<rect x="467.5" y="252.72" width="5" height="17.78" fill="#ffffff"/>
<path d="M467.5 270.5V252.72" class="brl"/><path d="M467 252.72H472.5V270.5" class="br"/>
<path d="M469.8 271V272.1" class="tk"/>
<path d="M467.4 253.12Q469.8 250.12 472.2 253.12" stroke="#18e018" stroke-width="1.8" fill="none"/>
<rect x="475.5" y="228.73" width="5" height="41.77" fill="#ffffff"/>
<path d="M475.5 270.5V228.73" class="brl"/><path d="M475 228.73H480.5V270.5" class="br"/>
<path d="M477.6 271V272.1" class="tk"/>
<path d="M475.2 229.13Q477.6 226.13 480 229.13" stroke="#18e018" stroke-width="1.8" fill="none"/>
<rect x="482.5" y="226.06" width="5" height="44.44" fill="#ffffff"/>
<path d="M482.5 270.5V226.06" class="brl"/><path d="M482 226.06H487.5V270.5" class="br"/>
<path d="M485.2 271V272.1" class="tk"/>
<path d="M485.2 222.51V229.62M484 222.51H486.4M484 229.62H486.4" class="eb"/>
<circle cx="485" cy="228.2" r="1.2" fill="#18e018"/>
<circle cx="485.6" cy="226.13" r="1.2" fill="#18e018"/>
<circle cx="485.2" cy="223.04" r="1.2" fill="#18e018"/>
<rect x="490.5" y="231.4" width="5" height="39.1" fill="#ffffff"/>
<path d="M490.5 270.5V231.4" class="brl"/><path d="M490 231.4H495.5V270.5" class="br"/>
<path d="M493.2 271V272.1" class="tk"/>
<path d="M490.8 231.8Q493.2 228.8 495.6 231.8" stroke="#18e018" stroke-width="1.8" fill="none"/>
<text x="462" y="277.5" class="xl">10</text>
<text x="469.8" y="277.5" class="xl">16</text>
<text x="477.6" y="277.5" class="xl">22</text>
<text x="485.2" y="277.5" class="xl">28</text>
<text x="493.2" y="277.5" class="xl">34</text>
<path d="M461.5 278.5H493.7" class="ul"/>
<text x="478.7" y="285.4" class="gl">P1</text>
<rect x="503.5" y="252.72" width="5" height="17.78" fill="#ffffff"/>
<path d="M503.5 270.5V252.72" class="brl"/><path d="M503 252.72H508.5V270.5" class="br"/>
<path d="M506.2 271V272.1" class="tk"/>
<path d="M503.8 253.12Q506.2 250.12 508.6 253.12" stroke="#1a1aff" stroke-width="1.8" fill="none"/>
<rect x="511.5" y="216.29" width="5" height="54.21" fill="#ffffff"/>
<path d="M511.5 270.5V216.29" class="brl"/><path d="M511 216.29H516.5V270.5" class="br"/>
<path d="M514.2 271V272.1" class="tk"/>
<path d="M514.2 213.62V218.95M513 213.62H515.4M513 218.95H515.4" class="eb"/>
<circle cx="514" cy="217.89" r="1.2" fill="#1a1aff"/>
<circle cx="514.6" cy="216.34" r="1.2" fill="#1a1aff"/>
<circle cx="514.2" cy="214.02" r="1.2" fill="#1a1aff"/>
<rect x="519.5" y="218.95" width="5" height="51.55" fill="#ffffff"/>
<path d="M519.5 270.5V218.95" class="brl"/><path d="M519 218.95H524.5V270.5" class="br"/>
<path d="M522 271V272.1" class="tk"/>
<path d="M522 216.82V221.09M520.8 216.82H523.2M520.8 221.09H523.2" class="eb"/>
<circle cx="521.8" cy="220.23" r="1.2" fill="#1a1aff"/>
<circle cx="522.4" cy="219" r="1.2" fill="#1a1aff"/>
<circle cx="522" cy="217.14" r="1.2" fill="#1a1aff"/>
<rect x="527.5" y="212.73" width="5" height="57.77" fill="#ffffff"/>
<path d="M527.5 270.5V212.73" class="brl"/><path d="M527 212.73H532.5V270.5" class="br"/>
<path d="M530 271V272.1" class="tk"/>
<path d="M530 210.95V214.51M528.8 210.95H531.2M528.8 214.51H531.2" class="eb"/>
<circle cx="529.8" cy="213.8" r="1.2" fill="#1a1aff"/>
<circle cx="530.4" cy="212.77" r="1.2" fill="#1a1aff"/>
<circle cx="530" cy="211.22" r="1.2" fill="#1a1aff"/>
<rect x="535.5" y="226.06" width="5" height="44.44" fill="#ffffff"/>
<path d="M535.5 270.5V226.06" class="brl"/><path d="M535 226.06H540.5V270.5" class="br"/>
<path d="M538 271V272.1" class="tk"/>
<path d="M538 223.4V228.73M536.8 223.4H539.2M536.8 228.73H539.2" class="eb"/>
<circle cx="537.8" cy="227.66" r="1.2" fill="#1a1aff"/>
<circle cx="538.4" cy="226.12" r="1.2" fill="#1a1aff"/>
<circle cx="538" cy="223.8" r="1.2" fill="#1a1aff"/>
<text x="506.2" y="277.5" class="xl">10</text>
<text x="514.2" y="277.5" class="xl">16</text>
<text x="522" y="277.5" class="xl">22</text>
<text x="530" y="277.5" class="xl">28</text>
<text x="538" y="277.5" class="xl">34</text>
<path d="M505.7 278.5H538.5" class="ul"/>
<text x="521.8" y="285.4" class="gl">P2</text>
<path d="M432.5 197V177.5H521.5V207" class="bk"/>
<circle cx="473.95" cy="173.7" r="1.1" class="sd"/>
<circle cx="477" cy="173.7" r="1.1" class="sd"/>
<circle cx="480.05" cy="173.7" r="1.1" class="sd"/>
<path d="M451.5 188V185.5H493.5V205" class="bk"/>
<circle cx="467.43" cy="181.7" r="1.1" class="sd"/>
<circle cx="470.48" cy="181.7" r="1.1" class="sd"/>
<circle cx="473.53" cy="181.7" r="1.1" class="sd"/>
<circle cx="476.57" cy="181.7" r="1.1" class="sd"/>
<path d="M441.5 194.4V192.5H485.5V214" class="bk"/>
<circle cx="462.55" cy="188.7" r="1.1" class="sd"/>
<circle cx="465.6" cy="188.7" r="1.1" class="sd"/>
<circle cx="468.65" cy="188.7" r="1.1" class="sd"/>
<path d="M426.5 205V201.5H469.5V234" class="bk"/>
<circle cx="443.43" cy="198.1" r="1.1" class="sd"/>
<circle cx="446.48" cy="198.1" r="1.1" class="sd"/>
<circle cx="449.53" cy="198.1" r="1.1" class="sd"/>
<circle cx="452.57" cy="198.1" r="1.1" class="sd"/>
<path d="M417.5 244V208.5H461.5V240" class="bk"/>
<circle cx="439.6" cy="205.3" r="1.1" class="sd"/>
</g>
<g>
<text x="17.3" y="324.3" class="pp">(</text>
<text x="20.5" y="325.2" class="pl">g</text>
<text x="26" y="324.3" class="pp">)</text>
<text x="78.5" y="311.5" class="tt" textLength="36" lengthAdjust="spacingAndGlyphs">Su Meng NO.7</text>
<text transform="translate(11.8,428.9) rotate(-90)" class="yb" style="font-size:6.1px" textLength="85" lengthAdjust="spacingAndGlyphs">Glucose content ( umol/g)</text>
<path d="M26.5 347.5V424M26 423.5H167" class="ax"/>
<path d="M24.3 423.5H26.5" class="tk"/>
<text x="23.9" y="425.25" class="tl">0</text>
<path d="M24.3 404.5H26.5" class="tk"/>
<text x="23.9" y="406.38" class="tl">200</text>
<path d="M24.3 385.5H26.5" class="tk"/>
<text x="23.9" y="387.5" class="tl">400</text>
<path d="M24.3 366.5H26.5" class="tk"/>
<text x="23.9" y="368.62" class="tl">600</text>
<path d="M24.3 348.5H26.5" class="tk"/>
<text x="23.9" y="349.75" class="tl">800</text>
<rect x="30.5" y="420.67" width="5" height="2.83" fill="#ffffff"/>
<path d="M30.5 423.5V420.67" class="brl"/><path d="M30 420.67H35.5V423.5" class="br"/>
<path d="M32.55 424V425.1" class="tk"/>
<path d="M30.2 421.07Q32.55 418.07 34.9 421.07" stroke="#ff1a1a" stroke-width="1.8" fill="none"/>
<rect x="38.5" y="419.73" width="5" height="3.77" fill="#ffffff"/>
<path d="M38.5 423.5V419.73" class="brl"/><path d="M38 419.73H43.5V423.5" class="br"/>
<path d="M40.95 424V425.1" class="tk"/>
<path d="M38.6 420.12Q40.95 417.12 43.3 420.12" stroke="#ff1a1a" stroke-width="1.8" fill="none"/>
<rect x="46.5" y="380.56" width="5" height="42.94" fill="#ffffff"/>
<path d="M46.5 423.5V380.56" class="brl"/><path d="M46 380.56H51.5V423.5" class="br"/>
<path d="M49.15 424V425.1" class="tk"/>
<path d="M49.15 378.2V382.92M47.95 378.2H50.35M47.95 382.92H50.35" class="eb"/>
<circle cx="48.95" cy="381.97" r="1.2" fill="#ff1a1a"/>
<circle cx="49.55" cy="380.61" r="1.2" fill="#ff1a1a"/>
<circle cx="49.15" cy="378.55" r="1.2" fill="#ff1a1a"/>
<rect x="55.5" y="384.81" width="5" height="38.69" fill="#ffffff"/>
<path d="M55.5 423.5V384.81" class="brl"/><path d="M55 384.81H60.5V423.5" class="br"/>
<path d="M57.55 424V425.1" class="tk"/>
<path d="M55.2 385.21Q57.55 382.21 59.9 385.21" stroke="#ff1a1a" stroke-width="1.8" fill="none"/>
<rect x="63.5" y="401.32" width="5" height="22.18" fill="#ffffff"/>
<path d="M63.5 423.5V401.32" class="brl"/><path d="M63 401.32H68.5V423.5" class="br"/>
<path d="M66.15 424V425.1" class="tk"/>
<path d="M63.8 401.72Q66.15 398.72 68.5 401.72" stroke="#ff1a1a" stroke-width="1.8" fill="none"/>
<text x="32.55" y="431" class="xl">10</text>
<text x="40.95" y="431" class="xl">16</text>
<text x="49.15" y="431" class="xl">22</text>
<text x="57.55" y="431" class="xl">28</text>
<text x="66.15" y="431" class="xl">34</text>
<path d="M32.05 433.5H66.65" class="ul"/>
<text x="51.55" y="439.3" class="gl">F1</text>
<rect x="77.5" y="419.73" width="5" height="3.77" fill="#ffffff"/>
<path d="M77.5 423.5V419.73" class="brl"/><path d="M77 419.73H82.5V423.5" class="br"/>
<path d="M80.15 424V425.1" class="tk"/>
<path d="M77.8 420.12Q80.15 417.12 82.5 420.12" stroke="#18e018" stroke-width="1.8" fill="none"/>
<rect x="86.5" y="419.25" width="5" height="4.25" fill="#ffffff"/>
<path d="M86.5 423.5V419.25" class="brl"/><path d="M86 419.25H91.5V423.5" class="br"/>
<path d="M88.55 424V425.1" class="tk"/>
<path d="M86.2 419.65Q88.55 416.65 90.9 419.65" stroke="#18e018" stroke-width="1.8" fill="none"/>
<rect x="94.5" y="364.52" width="5" height="58.98" fill="#ffffff"/>
<path d="M94.5 423.5V364.52" class="brl"/><path d="M94 364.52H99.5V423.5" class="br"/>
<path d="M96.95 424V425.1" class="tk"/>
<path d="M96.95 362.63V366.4M95.75 362.63H98.15M95.75 366.4H98.15" class="eb"/>
<circle cx="96.75" cy="365.65" r="1.2" fill="#18e018"/>
<circle cx="97.35" cy="364.55" r="1.2" fill="#18e018"/>
<circle cx="96.95" cy="362.91" r="1.2" fill="#18e018"/>
<rect x="102.5" y="386.69" width="5" height="36.81" fill="#ffffff"/>
<path d="M102.5 423.5V386.69" class="brl"/><path d="M102 386.69H107.5V423.5" class="br"/>
<path d="M104.95 424V425.1" class="tk"/>
<path d="M104.95 384.81V388.58M103.75 384.81H106.15M103.75 388.58H106.15" class="eb"/>
<circle cx="104.75" cy="387.83" r="1.2" fill="#18e018"/>
<circle cx="105.35" cy="386.73" r="1.2" fill="#18e018"/>
<circle cx="104.95" cy="385.09" r="1.2" fill="#18e018"/>
<rect x="111.5" y="399.43" width="5" height="24.07" fill="#ffffff"/>
<path d="M111.5 423.5V399.43" class="brl"/><path d="M111 399.43H116.5V423.5" class="br"/>
<path d="M113.55 424V425.1" class="tk"/>
<path d="M111.2 399.83Q113.55 396.83 115.9 399.83" stroke="#18e018" stroke-width="1.8" fill="none"/>
<text x="80.15" y="431" class="xl">10</text>
<text x="88.55" y="431" class="xl">16</text>
<text x="96.95" y="431" class="xl">22</text>
<text x="104.95" y="431" class="xl">28</text>
<text x="113.55" y="431" class="xl">34</text>
<path d="M79.65 433.5H114.05" class="ul"/>
<text x="98.05" y="439.3" class="gl">P1</text>
<rect x="125.5" y="420.67" width="5" height="2.83" fill="#ffffff"/>
<path d="M125.5 423.5V420.67" class="brl"/><path d="M125 420.67H130.5V423.5" class="br"/>
<path d="M127.55 424V425.1" class="tk"/>
<path d="M125.2 421.07Q127.55 418.07 129.9 421.07" stroke="#1a1aff" stroke-width="1.8" fill="none"/>
<rect x="133.5" y="419.73" width="5" height="3.77" fill="#ffffff"/>
<path d="M133.5 423.5V419.73" class="brl"/><path d="M133 419.73H138.5V423.5" class="br"/>
<path d="M135.95 424V425.1" class="tk"/>
<path d="M133.6 420.12Q135.95 417.12 138.3 420.12" stroke="#1a1aff" stroke-width="1.8" fill="none"/>
<rect x="141.5" y="364.04" width="5" height="59.46" fill="#ffffff"/>
<path d="M141.5 423.5V364.04" class="brl"/><path d="M141 364.04H146.5V423.5" class="br"/>
<path d="M144.15 424V425.1" class="tk"/>
<path d="M141.8 364.44Q144.15 361.44 146.5 364.44" stroke="#1a1aff" stroke-width="1.8" fill="none"/>
<rect x="150.5" y="370.18" width="5" height="53.32" fill="#ffffff"/>
<path d="M150.5 423.5V370.18" class="brl"/><path d="M150 370.18H155.5V423.5" class="br"/>
<path d="M152.55 424V425.1" class="tk"/>
<path d="M152.55 367.35V373.01M151.35 367.35H153.75M151.35 373.01H153.75" class="eb"/>
<circle cx="152.35" cy="371.88" r="1.2" fill="#1a1aff"/>
<circle cx="152.95" cy="370.23" r="1.2" fill="#1a1aff"/>
<circle cx="152.55" cy="367.77" r="1.2" fill="#1a1aff"/>
<rect x="158.5" y="394.24" width="5" height="29.26" fill="#ffffff"/>
<path d="M158.5 423.5V394.24" class="brl"/><path d="M158 394.24H163.5V423.5" class="br"/>
<path d="M160.95 424V425.1" class="tk"/>
<path d="M160.95 392.36V396.13M159.75 392.36H162.15M159.75 396.13H162.15" class="eb"/>
<circle cx="160.75" cy="395.38" r="1.2" fill="#1a1aff"/>
<circle cx="161.35" cy="394.28" r="1.2" fill="#1a1aff"/>
<circle cx="160.95" cy="392.64" r="1.2" fill="#1a1aff"/>
<text x="127.55" y="431" class="xl">10</text>
<text x="135.95" y="431" class="xl">16</text>
<text x="144.15" y="431" class="xl">22</text>
<text x="152.55" y="431" class="xl">28</text>
<text x="160.95" y="431" class="xl">34</text>
<path d="M127.05 433.5H161.45" class="ul"/>
<text x="143.95" y="439.3" class="gl">P2</text>
<path d="M66.5 331V325.5H161.5V382" class="bk"/>
<circle cx="110.42" cy="321.7" r="1.1" class="sd"/>
<circle cx="113.47" cy="321.7" r="1.1" class="sd"/>
<circle cx="116.52" cy="321.7" r="1.1" class="sd"/>
<circle cx="119.57" cy="321.7" r="1.1" class="sd"/>
<path d="M49.5 339V335.5H142.5V338" class="bk"/>
<circle cx="90.42" cy="331.7" r="1.1" class="sd"/>
<circle cx="93.47" cy="331.7" r="1.1" class="sd"/>
<circle cx="96.52" cy="331.7" r="1.1" class="sd"/>
<circle cx="99.57" cy="331.7" r="1.1" class="sd"/>
<path d="M49.5 376V343.5H96.5V348" class="bk"/>
<circle cx="67.83" cy="339.7" r="1.1" class="sd"/>
<circle cx="70.88" cy="339.7" r="1.1" class="sd"/>
<circle cx="73.92" cy="339.7" r="1.1" class="sd"/>
<circle cx="76.97" cy="339.7" r="1.1" class="sd"/>
<path d="M58.5 382V352.5H152.5V356" class="bk"/>
<circle cx="99.83" cy="349.1" r="1.1" class="sd"/>
<circle cx="102.88" cy="349.1" r="1.1" class="sd"/>
<circle cx="105.92" cy="349.1" r="1.1" class="sd"/>
<circle cx="108.97" cy="349.1" r="1.1" class="sd"/>
</g>
<g>
<text x="202.1" y="325.3" class="pp">(</text>
<text x="205.1" y="325.8" class="pl">h</text>
<text x="210.8" y="325.3" class="pp">)</text>
<text x="274.4" y="311.8" class="tt" textLength="38.6" lengthAdjust="spacingAndGlyphs">Su Meng NO.7</text>
<text transform="translate(206.9,421.9) rotate(-90)" class="yb" style="font-size:6.8px" textLength="54.1" lengthAdjust="spacingAndGlyphs">Sucrose content</text>
<text transform="translate(206.9,366.6) rotate(-90)" class="yu" style="font-size:6.24px">(</text>
<text transform="translate(206.9,347.25) rotate(-90)" class="yu" style="font-size:6.24px">)</text>
<text transform="translate(206.9,362.52) rotate(-90)" class="yu" style="font-size:7.8px" textLength="14.62" lengthAdjust="spacingAndGlyphs">mg/g</text>
<path d="M219.5 342.5V423M219 422.5H368" class="ax"/>
<path d="M217.3 422.5H219.5" class="tk"/>
<text x="216.9" y="424.25" class="tl">0</text>
<path d="M217.3 402.5H219.5" class="tk"/>
<text x="216.9" y="404.38" class="tl">10</text>
<path d="M217.3 382.5H219.5" class="tk"/>
<text x="216.9" y="384.5" class="tl">20</text>
<path d="M217.3 362.5H219.5" class="tk"/>
<text x="216.9" y="364.62" class="tl">30</text>
<path d="M217.3 343.5H219.5" class="tk"/>
<text x="216.9" y="344.75" class="tl">40</text>
<rect x="223.5" y="420.51" width="5" height="1.99" fill="url(#hatch)"/>
<path d="M223.5 422.5V420.51" class="brl"/><path d="M223 420.51H228.5V422.5" class="br"/>
<path d="M225.5 423V424.1" class="tk"/>
<path d="M225.5 418.52V422.5M224.3 418.52H226.7M224.3 422.5H226.7" class="eb"/>
<circle cx="225.3" cy="421.7" r="1.2" fill="#ff1a1a"/>
<circle cx="225.9" cy="420.55" r="1.2" fill="#ff1a1a"/>
<circle cx="225.5" cy="418.82" r="1.2" fill="#ff1a1a"/>
<rect x="232.5" y="415.54" width="5" height="6.96" fill="url(#hatch)"/>
<path d="M232.5 422.5V415.54" class="brl"/><path d="M232 415.54H237.5V422.5" class="br"/>
<path d="M234.5 423V424.1" class="tk"/>
<path d="M234.5 412.56V418.52M233.3 412.56H235.7M233.3 418.52H235.7" class="eb"/>
<circle cx="234.3" cy="417.33" r="1.2" fill="#ff1a1a"/>
<circle cx="234.9" cy="415.6" r="1.2" fill="#ff1a1a"/>
<circle cx="234.5" cy="413.01" r="1.2" fill="#ff1a1a"/>
<rect x="241.5" y="414.55" width="5" height="7.95" fill="url(#hatch)"/>
<path d="M241.5 422.5V414.55" class="brl"/><path d="M241 414.55H246.5V422.5" class="br"/>
<path d="M243.5 423V424.1" class="tk"/>
<path d="M241.2 414.95Q243.5 411.95 245.8 414.95" stroke="#ff1a1a" stroke-width="1.8" fill="none"/>
<rect x="250.5" y="394.68" width="5" height="27.82" fill="url(#hatch)"/>
<path d="M250.5 422.5V394.68" class="brl"/><path d="M250 394.68H255.5V422.5" class="br"/>
<path d="M252.5 423V424.1" class="tk"/>
<path d="M250.2 395.07Q252.5 392.07 254.8 395.07" stroke="#ff1a1a" stroke-width="1.8" fill="none"/>
<rect x="259.5" y="362.88" width="5" height="59.62" fill="url(#hatch)"/>
<path d="M259.5 422.5V362.88" class="brl"/><path d="M259 362.88H264.5V422.5" class="br"/>
<path d="M261.5 423V424.1" class="tk"/>
<path d="M261.5 360.89V364.86M260.3 360.89H262.7M260.3 364.86H262.7" class="eb"/>
<circle cx="261.3" cy="364.07" r="1.2" fill="#ff1a1a"/>
<circle cx="261.9" cy="362.91" r="1.2" fill="#ff1a1a"/>
<circle cx="261.5" cy="361.19" r="1.2" fill="#ff1a1a"/>
<text x="225.5" y="431.1" class="xl">10</text>
<text x="234.5" y="431.1" class="xl">16</text>
<text x="243.5" y="431.1" class="xl">22</text>
<text x="252.5" y="431.1" class="xl">28</text>
<text x="261.5" y="431.1" class="xl">34</text>
<path d="M225 433.5H262" class="ul"/>
<text x="245.9" y="439.6" class="gl">F1</text>
<rect x="273.5" y="418.52" width="5" height="3.98" fill="#ffffff"/>
<path d="M273.5 422.5V418.52" class="brl"/><path d="M273 418.52H278.5V422.5" class="br"/>
<path d="M275.9 423V424.1" class="tk"/>
<path d="M273.6 418.92Q275.9 415.92 278.2 418.92" stroke="#18e018" stroke-width="1.8" fill="none"/>
<rect x="282.5" y="416.54" width="5" height="5.96" fill="#ffffff"/>
<path d="M282.5 422.5V416.54" class="brl"/><path d="M282 416.54H287.5V422.5" class="br"/>
<path d="M284.9 423V424.1" class="tk"/>
<path d="M284.9 414.55V418.52M283.7 414.55H286.1M283.7 418.52H286.1" class="eb"/>
<circle cx="284.7" cy="417.73" r="1.2" fill="#18e018"/>
<circle cx="285.3" cy="416.58" r="1.2" fill="#18e018"/>
<circle cx="284.9" cy="414.85" r="1.2" fill="#18e018"/>
<rect x="291.5" y="410.57" width="5" height="11.93" fill="#ffffff"/>
<path d="M291.5 422.5V410.57" class="brl"/><path d="M291 410.57H296.5V422.5" class="br"/>
<path d="M293.9 423V424.1" class="tk"/>
<path d="M291.6 410.97Q293.9 407.97 296.2 410.97" stroke="#18e018" stroke-width="1.8" fill="none"/>
<rect x="300.5" y="381.76" width="5" height="40.74" fill="#ffffff"/>
<path d="M300.5 422.5V381.76" class="brl"/><path d="M300 381.76H305.5V422.5" class="br"/>
<path d="M302.9 423V424.1" class="tk"/>
<path d="M302.9 379.77V383.74M301.7 379.77H304.1M301.7 383.74H304.1" class="eb"/>
<circle cx="302.7" cy="382.95" r="1.2" fill="#18e018"/>
<circle cx="303.3" cy="381.8" r="1.2" fill="#18e018"/>
<circle cx="302.9" cy="380.07" r="1.2" fill="#18e018"/>
<rect x="309.5" y="374.8" width="5" height="47.7" fill="#ffffff"/>
<path d="M309.5 422.5V374.8" class="brl"/><path d="M309 374.8H314.5V422.5" class="br"/>
<path d="M311.5 423V424.1" class="tk"/>
<path d="M311.5 372.81V376.79M310.3 372.81H312.7M310.3 376.79H312.7" class="eb"/>
<circle cx="311.3" cy="375.99" r="1.2" fill="#18e018"/>
<circle cx="311.9" cy="374.84" r="1.2" fill="#18e018"/>
<circle cx="311.5" cy="373.11" r="1.2" fill="#18e018"/>
<text x="275.9" y="431.1" class="xl">10</text>
<text x="284.9" y="431.1" class="xl">16</text>
<text x="293.9" y="431.1" class="xl">22</text>
<text x="302.9" y="431.1" class="xl">28</text>
<text x="311.5" y="431.1" class="xl">34</text>
<path d="M275.4 433.5H312" class="ul"/>
<text x="295" y="439.6" class="gl">P1</text>
<rect x="324.5" y="420.51" width="5" height="1.99" fill="#ffffff"/>
<path d="M324.5 422.5V420.51" class="brl"/><path d="M324 420.51H329.5V422.5" class="br"/>
<path d="M326.5 423V424.1" class="tk"/>
<path d="M324.2 420.91Q326.5 417.91 328.8 420.91" stroke="#1a1aff" stroke-width="1.8" fill="none"/>
<rect x="332.5" y="414.55" width="5" height="7.95" fill="#ffffff"/>
<path d="M332.5 422.5V414.55" class="brl"/><path d="M332 414.55H337.5V422.5" class="br"/>
<path d="M335.1 423V424.1" class="tk"/>
<path d="M332.8 414.95Q335.1 411.95 337.4 414.95" stroke="#1a1aff" stroke-width="1.8" fill="none"/>
<rect x="341.5" y="402.62" width="5" height="19.88" fill="#ffffff"/>
<path d="M341.5 422.5V402.62" class="brl"/><path d="M341 402.62H346.5V422.5" class="br"/>
<path d="M344.1 423V424.1" class="tk"/>
<path d="M344.1 401.03V404.21M342.9 401.03H345.3M342.9 404.21H345.3" class="eb"/>
<circle cx="343.9" cy="403.58" r="1.2" fill="#1a1aff"/>
<circle cx="344.5" cy="402.66" r="1.2" fill="#1a1aff"/>
<circle cx="344.1" cy="401.27" r="1.2" fill="#1a1aff"/>
<rect x="350.5" y="400.64" width="5" height="21.86" fill="#ffffff"/>
<path d="M350.5 422.5V400.64" class="brl"/><path d="M350 400.64H355.5V422.5" class="br"/>
<path d="M352.9 423V424.1" class="tk"/>
<path d="M350.6 401.04Q352.9 398.04 355.2 401.04" stroke="#1a1aff" stroke-width="1.8" fill="none"/>
<rect x="359.5" y="391.69" width="5" height="30.81" fill="#ffffff"/>
<path d="M359.5 422.5V391.69" class="brl"/><path d="M359 391.69H364.5V422.5" class="br"/>
<path d="M362.1 423V424.1" class="tk"/>
<path d="M359.8 392.09Q362.1 389.09 364.4 392.09" stroke="#1a1aff" stroke-width="1.8" fill="none"/>
<text x="326.5" y="431.1" class="xl">10</text>
<text x="335.1" y="431.1" class="xl">16</text>
<text x="344.1" y="431.1" class="xl">22</text>
<text x="352.9" y="431.1" class="xl">28</text>
<text x="362.1" y="431.1" class="xl">34</text>
<path d="M326 433.5H362.6" class="ul"/>
<text x="343.9" y="439.6" class="gl">P2</text>
<path d="M261.5 326V323.5H311.5V326" class="bk"/>
<circle cx="280.43" cy="320.3" r="1.1" class="sd"/>
<circle cx="283.48" cy="320.3" r="1.1" class="sd"/>
<circle cx="286.53" cy="320.3" r="1.1" class="sd"/>
<circle cx="289.57" cy="320.3" r="1.1" class="sd"/>
<path d="M252.5 337V333.5H353.5V387" class="bk"/>
<circle cx="301.95" cy="329.7" r="1.1" class="sd"/>
<circle cx="305" cy="329.7" r="1.1" class="sd"/>
<circle cx="308.05" cy="329.7" r="1.1" class="sd"/>
<path d="M252.5 343V339.5H303.5V343" class="bk"/>
<circle cx="272.82" cy="336.3" r="1.1" class="sd"/>
<circle cx="275.88" cy="336.3" r="1.1" class="sd"/>
<circle cx="278.93" cy="336.3" r="1.1" class="sd"/>
<circle cx="281.97" cy="336.3" r="1.1" class="sd"/>
<path d="M243.5 353.6V351.5H344.5V394" class="bk"/>
<circle cx="292.43" cy="347.7" r="1.1" class="sd"/>
<circle cx="295.48" cy="347.7" r="1.1" class="sd"/>
<circle cx="298.53" cy="347.7" r="1.1" class="sd"/>
<circle cx="301.57" cy="347.7" r="1.1" class="sd"/>
<path d="M243.5 403V358.5H293.5V403" class="bk"/>
<circle cx="266.88" cy="354.7" r="1.1" class="sd"/>
<circle cx="269.93" cy="354.7" r="1.1" class="sd"/>
</g>
<g>
<text x="401.3" y="324.3" class="pp">(</text>
<text x="404.5" y="325.4" class="pl">i</text>
<text x="407" y="324.3" class="pp">)</text>
<text x="461.6" y="311.1" class="tt" textLength="34.9" lengthAdjust="spacingAndGlyphs">Su Meng NO.7</text>
<text transform="translate(400.1,423.1) rotate(-90)" class="yb" style="font-size:6.3px" textLength="51.9" lengthAdjust="spacingAndGlyphs">Fructose content</text>
<text transform="translate(400.1,370) rotate(-90)" class="yu" style="font-size:5.68px">(</text>
<text transform="translate(400.1,352.27) rotate(-90)" class="yu" style="font-size:5.68px">)</text>
<text transform="translate(400.1,366.26) rotate(-90)" class="yu" style="font-size:7.1px" textLength="13.4" lengthAdjust="spacingAndGlyphs">mg/g</text>
<path d="M412.5 349.9V424M412 423.5H546" class="ax"/>
<path d="M410.3 423.5H412.5" class="tk"/>
<text x="409.9" y="425.25" class="tl">0</text>
<path d="M410.3 405.5H412.5" class="tk"/>
<text x="409.9" y="406.98" class="tl">10</text>
<path d="M410.3 386.5H412.5" class="tk"/>
<text x="409.9" y="388.7" class="tl">20</text>
<path d="M410.3 368.5H412.5" class="tk"/>
<text x="409.9" y="370.42" class="tl">30</text>
<path d="M410.3 350.5H412.5" class="tk"/>
<text x="409.9" y="352.15" class="tl">40</text>
<rect x="415.5" y="399.74" width="5" height="23.76" fill="url(#hatch)"/>
<path d="M415.5 423.5V399.74" class="brl"/><path d="M415 399.74H420.5V423.5" class="br"/>
<path d="M417.5 424V425.1" class="tk"/>
<path d="M417.5 396.09V403.4M416.3 396.09H418.7M416.3 403.4H418.7" class="eb"/>
<circle cx="417.3" cy="401.94" r="1.2" fill="#ff1a1a"/>
<circle cx="417.9" cy="399.82" r="1.2" fill="#ff1a1a"/>
<circle cx="417.5" cy="396.64" r="1.2" fill="#ff1a1a"/>
<rect x="422.5" y="383.29" width="5" height="40.21" fill="url(#hatch)"/>
<path d="M422.5 423.5V383.29" class="brl"/><path d="M422 383.29H427.5V423.5" class="br"/>
<path d="M425.3 424V425.1" class="tk"/>
<path d="M425.3 379.64V386.95M424.1 379.64H426.5M424.1 386.95H426.5" class="eb"/>
<circle cx="425.1" cy="385.49" r="1.2" fill="#ff1a1a"/>
<circle cx="425.7" cy="383.37" r="1.2" fill="#ff1a1a"/>
<circle cx="425.3" cy="380.19" r="1.2" fill="#ff1a1a"/>
<rect x="431.5" y="385.12" width="5" height="38.38" fill="url(#hatch)"/>
<path d="M431.5 423.5V385.12" class="brl"/><path d="M431 385.12H436.5V423.5" class="br"/>
<path d="M433.5 424V425.1" class="tk"/>
<path d="M433.5 383.29V386.95M432.3 383.29H434.7M432.3 386.95H434.7" class="eb"/>
<circle cx="433.3" cy="386.22" r="1.2" fill="#ff1a1a"/>
<circle cx="433.9" cy="385.16" r="1.2" fill="#ff1a1a"/>
<circle cx="433.5" cy="383.57" r="1.2" fill="#ff1a1a"/>
<rect x="439.5" y="378.73" width="5" height="44.77" fill="url(#hatch)"/>
<path d="M439.5 423.5V378.73" class="brl"/><path d="M439 378.73H444.5V423.5" class="br"/>
<path d="M441.5 424V425.1" class="tk"/>
<path d="M441.5 374.16V383.29M440.3 374.16H442.7M440.3 383.29H442.7" class="eb"/>
<circle cx="441.3" cy="381.47" r="1.2" fill="#ff1a1a"/>
<circle cx="441.9" cy="378.82" r="1.2" fill="#ff1a1a"/>
<circle cx="441.5" cy="374.84" r="1.2" fill="#ff1a1a"/>
<rect x="447.5" y="378.73" width="5" height="44.77" fill="url(#hatch)"/>
<path d="M447.5 423.5V378.73" class="brl"/><path d="M447 378.73H452.5V423.5" class="br"/>
<path d="M449.5 424V425.1" class="tk"/>
<path d="M449.5 376.53V380.92M448.3 376.53H450.7M448.3 380.92H450.7" class="eb"/>
<circle cx="449.3" cy="380.04" r="1.2" fill="#ff1a1a"/>
<circle cx="449.9" cy="378.77" r="1.2" fill="#ff1a1a"/>
<circle cx="449.5" cy="376.86" r="1.2" fill="#ff1a1a"/>
<text x="417.5" y="431.5" class="xl">10</text>
<text x="425.3" y="431.5" class="xl">16</text>
<text x="433.5" y="431.5" class="xl">22</text>
<text x="441.5" y="431.5" class="xl">28</text>
<text x="449.5" y="431.5" class="xl">34</text>
<path d="M417 433.5H450" class="ul"/>
<text x="435.9" y="439.6" class="gl">F1</text>
<rect x="460.5" y="403.4" width="5" height="20.1" fill="#ffffff"/>
<path d="M460.5 423.5V403.4" class="brl"/><path d="M460 403.4H465.5V423.5" class="br"/>
<path d="M463 424V425.1" class="tk"/>
<path d="M463 401.57V405.23M461.8 401.57H464.2M461.8 405.23H464.2" class="eb"/>
<circle cx="462.8" cy="404.49" r="1.2" fill="#18e018"/>
<circle cx="463.4" cy="403.43" r="1.2" fill="#18e018"/>
<circle cx="463" cy="401.84" r="1.2" fill="#18e018"/>
<rect x="468.5" y="380.55" width="5" height="42.95" fill="#ffffff"/>
<path d="M468.5 423.5V380.55" class="brl"/><path d="M468 380.55H473.5V423.5" class="br"/>
<path d="M470.9 424V425.1" class="tk"/>
<path d="M470.9 372.33V388.78M469.7 372.33H472.1M469.7 388.78H472.1" class="eb"/>
<circle cx="470.7" cy="385.49" r="1.2" fill="#18e018"/>
<circle cx="471.3" cy="380.72" r="1.2" fill="#18e018"/>
<circle cx="470.9" cy="373.56" r="1.2" fill="#18e018"/>
<rect x="476.5" y="373.24" width="5" height="50.26" fill="#ffffff"/>
<path d="M476.5 423.5V373.24" class="brl"/><path d="M476 373.24H481.5V423.5" class="br"/>
<path d="M478.9 424V425.1" class="tk"/>
<path d="M478.9 370.5V375.99M477.7 370.5H480.1M477.7 375.99H480.1" class="eb"/>
<circle cx="478.7" cy="374.89" r="1.2" fill="#18e018"/>
<circle cx="479.3" cy="373.3" r="1.2" fill="#18e018"/>
<circle cx="478.9" cy="370.91" r="1.2" fill="#18e018"/>
<rect x="484.5" y="357.71" width="5" height="65.79" fill="#ffffff"/>
<path d="M484.5 423.5V357.71" class="brl"/><path d="M484 357.71H489.5V423.5" class="br"/>
<path d="M486.9 424V425.1" class="tk"/>
<path d="M486.9 354.97V360.45M485.7 354.97H488.1M485.7 360.45H488.1" class="eb"/>
<circle cx="486.7" cy="359.35" r="1.2" fill="#18e018"/>
<circle cx="487.3" cy="357.76" r="1.2" fill="#18e018"/>
<circle cx="486.9" cy="355.38" r="1.2" fill="#18e018"/>
<rect x="492.5" y="366.85" width="5" height="56.65" fill="#ffffff"/>
<path d="M492.5 423.5V366.85" class="brl"/><path d="M492 366.85H497.5V423.5" class="br"/>
<path d="M495.1 424V425.1" class="tk"/>
<path d="M495.1 364.11V369.59M493.9 364.11H496.3M493.9 369.59H496.3" class="eb"/>
<circle cx="494.9" cy="368.49" r="1.2" fill="#18e018"/>
<circle cx="495.5" cy="366.9" r="1.2" fill="#18e018"/>
<circle cx="495.1" cy="364.52" r="1.2" fill="#18e018"/>
<text x="463" y="431.5" class="xl">10</text>
<text x="470.9" y="431.5" class="xl">16</text>
<text x="478.9" y="431.5" class="xl">22</text>
<text x="486.9" y="431.5" class="xl">28</text>
<text x="495.1" y="431.5" class="xl">34</text>
<path d="M462.5 433.5H495.6" class="ul"/>
<text x="480" y="439.6" class="gl">P1</text>
<rect x="506.5" y="405.23" width="5" height="18.27" fill="#ffffff"/>
<path d="M506.5 423.5V405.23" class="brl"/><path d="M506 405.23H511.5V423.5" class="br"/>
<path d="M508.5 424V425.1" class="tk"/>
<path d="M506.2 405.62Q508.5 402.62 510.8 405.62" stroke="#1a1aff" stroke-width="1.8" fill="none"/>
<rect x="514.5" y="367.76" width="5" height="55.74" fill="#ffffff"/>
<path d="M514.5 423.5V367.76" class="brl"/><path d="M514 367.76H519.5V423.5" class="br"/>
<path d="M516.9 424V425.1" class="tk"/>
<path d="M516.9 365.02V370.5M515.7 365.02H518.1M515.7 370.5H518.1" class="eb"/>
<circle cx="516.7" cy="369.41" r="1.2" fill="#1a1aff"/>
<circle cx="517.3" cy="367.82" r="1.2" fill="#1a1aff"/>
<circle cx="516.9" cy="365.43" r="1.2" fill="#1a1aff"/>
<rect x="522.5" y="369.59" width="5" height="53.91" fill="#ffffff"/>
<path d="M522.5 423.5V369.59" class="brl"/><path d="M522 369.59H527.5V423.5" class="br"/>
<path d="M524.5 424V425.1" class="tk"/>
<path d="M524.5 367.4V371.78M523.3 367.4H525.7M523.3 371.78H525.7" class="eb"/>
<circle cx="524.3" cy="370.9" r="1.2" fill="#1a1aff"/>
<circle cx="524.9" cy="369.63" r="1.2" fill="#1a1aff"/>
<circle cx="524.5" cy="367.72" r="1.2" fill="#1a1aff"/>
<rect x="530.5" y="364.11" width="5" height="59.39" fill="#ffffff"/>
<path d="M530.5 423.5V364.11" class="brl"/><path d="M530 364.11H535.5V423.5" class="br"/>
<path d="M532.9 424V425.1" class="tk"/>
<path d="M532.9 362.28V365.93M531.7 362.28H534.1M531.7 365.93H534.1" class="eb"/>
<circle cx="532.7" cy="365.2" r="1.2" fill="#1a1aff"/>
<circle cx="533.3" cy="364.14" r="1.2" fill="#1a1aff"/>
<circle cx="532.9" cy="362.55" r="1.2" fill="#1a1aff"/>
<rect x="538.5" y="377.81" width="5" height="45.69" fill="#ffffff"/>
<path d="M538.5 423.5V377.81" class="brl"/><path d="M538 377.81H543.5V423.5" class="br"/>
<path d="M540.9 424V425.1" class="tk"/>
<path d="M540.9 375.07V380.55M539.7 375.07H542.1M539.7 380.55H542.1" class="eb"/>
<circle cx="540.7" cy="379.46" r="1.2" fill="#1a1aff"/>
<circle cx="541.3" cy="377.87" r="1.2" fill="#1a1aff"/>
<circle cx="540.9" cy="375.48" r="1.2" fill="#1a1aff"/>
<text x="508.5" y="431.5" class="xl">10</text>
<text x="516.9" y="431.5" class="xl">16</text>
<text x="524.5" y="431.5" class="xl">22</text>
<text x="532.9" y="431.5" class="xl">28</text>
<text x="540.9" y="431.5" class="xl">34</text>
<path d="M508 433.5H541.4" class="ul"/>
<text x="524.3" y="439.6" class="gl">P2</text>
<path d="M450.5 323.6V321.5H497.5V323.6" class="bk"/>
<circle cx="471.35" cy="317.7" r="1.1" class="sd"/>
<circle cx="474.4" cy="317.7" r="1.1" class="sd"/>
<circle cx="477.45" cy="317.7" r="1.1" class="sd"/>
<path d="M442.5 335V332.5H533.5V354" class="bk"/>
<circle cx="484.43" cy="328.7" r="1.1" class="sd"/>
<circle cx="487.48" cy="328.7" r="1.1" class="sd"/>
<circle cx="490.53" cy="328.7" r="1.1" class="sd"/>
<circle cx="493.57" cy="328.7" r="1.1" class="sd"/>
<path d="M442.5 343V339.5H487.5V343" class="bk"/>
<circle cx="462.82" cy="336.3" r="1.1" class="sd"/>
<circle cx="465.88" cy="336.3" r="1.1" class="sd"/>
<circle cx="468.93" cy="336.3" r="1.1" class="sd"/>
<circle cx="471.97" cy="336.3" r="1.1" class="sd"/>
<path d="M425.5 371V346.5H525.5V352.4" class="bk"/>
<circle cx="458.43" cy="343.1" r="1.1" class="sd"/>
<circle cx="461.48" cy="343.1" r="1.1" class="sd"/>
<circle cx="464.53" cy="343.1" r="1.1" class="sd"/>
<circle cx="467.57" cy="343.1" r="1.1" class="sd"/>
<path d="M425.5 371V352.5H517.5V360" class="bk"/>
<circle cx="468.43" cy="349.1" r="1.1" class="sd"/>
<circle cx="471.48" cy="349.1" r="1.1" class="sd"/>
<circle cx="474.53" cy="349.1" r="1.1" class="sd"/>
<circle cx="477.57" cy="349.1" r="1.1" class="sd"/>
<path d="M433.5 382V362.5H479.5V366" class="bk"/>
<circle cx="453.95" cy="359.1" r="1.1" class="sd"/>
<circle cx="457" cy="359.1" r="1.1" class="sd"/>
<circle cx="460.05" cy="359.1" r="1.1" class="sd"/>
</g>
</svg>
</body></html>
